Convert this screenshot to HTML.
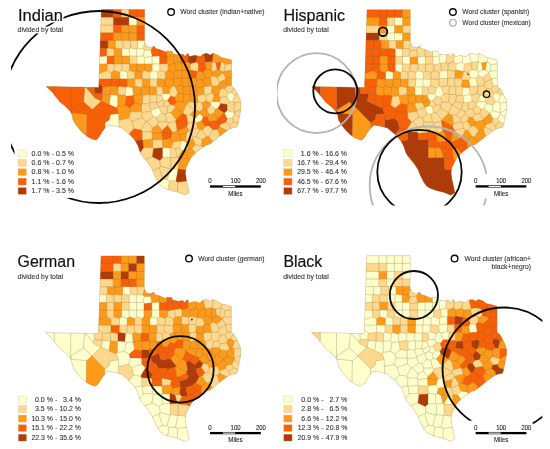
<!DOCTYPE html>
<html><head><meta charset="utf-8"><title>Texas maps</title>
<style>html,body{margin:0;padding:0;background:#fff}body{width:550px;height:449px;overflow:hidden}svg text{font-family:"Liberation Sans", sans-serif}</style>
</head><body>
<svg width="550" height="449" viewBox="0 0 550 449" style="display:block">
<rect width="550" height="449" fill="#fff"/>
<g stroke="#7a6848" stroke-opacity="0.5" stroke-width="0.3" stroke-linejoin="round">
<path d="M101.3,9.6 L144.6,9.6 L144.5,42.3 L146.7,46.6 L151.2,47.5 L153.9,45.9 L155.8,48.4 L160.3,49.8 L165.8,52.0 L167.6,51.0 L172.1,51.3 L173.0,53.8 L179.4,54.9 L183.0,53.9 L184.8,56.2 L187.9,53.2 L189.4,56.6 L194.8,55.2 L200.3,56.6 L203.0,54.0 L206.7,53.2 L210.3,54.9 L213.0,53.2 L217.6,54.9 L221.2,57.5 L225.8,58.4 L231.5,60.0 L231.5,86.0 L234.0,88.0 L236.0,91.0 L238.0,95.0 L240.0,99.0 L241.0,103.0 L241.0,108.0 L240.0,114.0 L239.0,119.0 L238.0,124.0 L237.0,127.0 L232.0,128.0 L228.0,130.0 L224.0,133.0 L220.0,136.0 L215.0,140.0 L210.0,144.0 L206.4,145.0 L200.1,149.2 L195.2,153.3 L191.2,157.5 L188.4,162.8 L186.3,167.0 L185.4,172.3 L186.3,179.3 L188.0,186.5 L189.2,192.6 L185.2,195.0 L177.7,192.0 L170.3,190.2 L164.8,188.4 L161.0,186.0 L158.0,182.0 L154.5,175.0 L152.4,169.5 L148.3,163.2 L144.0,158.0 L141.5,155.0 L140.0,152.0 L138.0,146.0 L136.0,142.0 L133.0,138.0 L128.0,133.0 L122.0,128.0 L117.0,126.5 L112.0,125.5 L108.0,125.0 L105.0,128.0 L102.0,132.0 L99.0,137.0 L96.0,140.0 L92.0,139.0 L88.0,137.0 L84.0,134.0 L80.0,130.0 L76.0,125.0 L73.0,120.0 L72.0,115.0 L70.0,111.0 L65.0,106.0 L60.0,102.0 L56.0,97.0 L52.0,92.0 L49.0,89.0 L46.0,86.4 L98.8,87.4Z" fill="#fed98e"/>
<path fill="#ffffcc" d="M137.6,48.2L143.3,48.7L144.7,42.7L144.5,42.3L144.5,40.4L137.6,40.4ZM123.0,48.0L121.9,48.9L121.9,56.1L129.5,56.1L129.5,48.9ZM129.5,48.9L129.5,56.1L136.7,56.1L136.7,48.8L130.5,48.0ZM136.7,48.8L136.7,56.1L136.9,56.3L143.2,56.0L144.5,50.2L143.3,48.7L137.6,48.2ZM144.3,57.4L152.1,56.5L152.2,56.3L150.9,49.9L144.5,50.2L143.2,56.0ZM107.1,63.9L107.1,56.3L106.7,56.0L99.8,56.4L99.6,63.9ZM136.9,56.3L136.9,63.9L144.3,63.9L144.3,57.4L143.2,56.0ZM152.1,56.5L144.3,57.4L144.3,63.9L152.1,63.9ZM159.6,56.1L159.5,56.0L152.2,56.3L152.1,56.5L152.1,63.9L159.6,63.9ZM159.8,64.0L159.6,63.9L152.1,63.9L152.1,70.5L157.7,72.1L159.8,70.5ZM227.9,93.1L227.0,96.7L229.8,101.8L232.6,101.8L234.6,95.0L230.9,92.5ZM119.8,78.8L127.3,79.0L127.4,78.9L127.4,72.1L121.9,70.5L119.8,72.2ZM157.7,72.1L152.1,70.5L150.1,72.1L150.1,78.8L157.2,79.0L157.7,78.6ZM126.4,96.3L133.4,95.6L133.4,95.6L132.7,87.8L127.3,86.4L125.9,87.3L125.1,95.1ZM109.3,104.5L115.9,107.5L117.7,106.1L117.7,95.2L110.7,94.7L110.6,94.7ZM170.7,96.0L169.1,93.5L163.2,93.5L161.4,95.2L163.3,99.7L164.6,100.8L167.5,100.3ZM151.0,111.4L153.2,116.7L156.5,117.6L161.3,113.4L159.2,107.2L158.9,107.0L151.3,110.4ZM196.5,122.8L201.5,120.9L203.3,117.1L199.8,113.6L194.9,118.5L194.9,121.5ZM215.5,109.1L217.9,108.5L220.7,103.4L219.7,101.5L212.6,101.5L210.4,103.3L210.6,104.8ZM227.3,118.7L232.0,118.2L234.6,113.5L234.4,112.5L227.1,110.5L224.2,113.1ZM180.7,140.7L180.7,140.7L179.8,147.9L182.4,150.2L186.8,149.8L187.9,148.6L185.9,141.5L185.5,141.3ZM170.2,157.3L170.2,147.9L162.8,147.4L162.5,147.7L162.5,157.8ZM167.5,179.4L169.3,181.0L175.9,181.0L178.1,169.2L170.9,168.4L170.1,168.8ZM169.3,181.0L167.5,179.4L162.7,179.1L158.0,181.9L158.0,182.0L161.0,186.0L164.8,188.4L168.0,189.4ZM105.0,128.0L108.0,125.0L112.0,125.5L117.0,126.5L119.0,127.1L119.0,125.3L118.7,113.5L110.5,114.4L109.2,119.9L105.0,122.6ZM128.9,25.2L136.9,25.2L136.9,17.2L128.9,17.2Z"/>
<path fill="#fed88c" d="M115.4,48.0L121.9,48.9L123.0,48.0L123.0,40.4L115.4,40.4ZM130.5,40.4L123.0,40.4L123.0,48.0L129.5,48.9L130.5,48.0ZM130.5,48.0L136.7,48.8L137.6,48.2L137.6,40.4L130.5,40.4ZM143.3,48.7L144.5,50.2L150.9,49.9L153.8,46.0L151.2,47.5L146.7,46.6L144.7,42.7ZM106.7,48.8L106.7,56.0L107.1,56.3L114.1,56.0L114.1,49.0L107.9,47.9ZM129.5,56.1L129.5,63.9L136.9,63.9L136.9,56.3L136.7,56.1ZM114.2,63.9L107.1,63.9L107.1,70.6L111.2,72.8L114.2,70.5ZM121.9,70.5L121.9,63.9L114.2,63.9L114.2,70.5L119.8,72.2ZM127.4,72.1L129.5,70.5L129.5,63.9L121.9,63.9L121.9,70.5ZM168.0,70.1L168.0,64.7L167.0,63.7L159.8,64.0L159.8,70.5L165.4,72.1ZM197.8,71.4L198.1,71.2L198.5,63.9L196.5,62.1L190.4,63.7L190.2,69.9ZM215.8,62.8L212.5,61.8L211.3,70.3L212.7,71.6L217.1,69.7ZM223.0,72.1L224.2,71.2L225.1,64.4L221.5,61.4L221.1,61.7L219.5,69.9ZM225.1,64.4L224.2,71.2L231.5,70.4L231.5,63.7ZM217.2,77.5L212.7,75.7L210.4,78.1L211.8,85.9L212.1,86.1L218.2,85.7L219.3,82.2ZM223.0,72.7L217.2,77.5L219.3,82.2L225.8,79.0L225.9,78.7ZM203.6,87.3L204.3,94.3L205.6,95.4L211.5,93.0L212.1,86.1L211.8,85.9L204.4,86.5ZM224.8,88.8L220.8,88.5L218.6,94.7L220.5,97.4L227.0,96.7L227.9,93.1ZM227.5,85.8L224.8,88.8L227.9,93.1L230.9,92.5L234.0,88.0L231.5,86.0L231.5,85.4ZM197.9,102.0L202.1,102.8L206.4,100.5L205.6,95.4L204.3,94.3L197.3,95.6ZM214.2,95.1L211.5,93.0L205.6,95.4L206.4,100.5L210.4,103.3L212.6,101.5ZM220.7,103.4L227.1,104.6L229.8,101.8L227.0,96.7L220.5,97.4L219.7,101.5ZM234.6,95.0L232.6,101.8L234.4,102.7L240.8,102.2L240.0,99.0L238.0,95.0L237.4,93.9ZM230.9,92.5L234.6,95.0L237.4,93.9L236.0,91.0L234.0,88.0L234.0,88.0ZM99.2,73.5L99.1,78.9L111.2,78.9L111.2,72.8L107.1,70.6ZM129.5,70.5L127.4,72.1L127.4,78.9L134.8,78.9L134.8,72.1ZM150.1,72.1L144.3,70.5L142.3,72.1L142.3,78.8L142.4,78.9L149.9,78.9L150.1,78.8ZM159.8,70.5L157.7,72.1L157.7,78.6L164.7,79.2L165.4,78.6L165.4,72.1ZM134.8,86.2L141.2,87.4L142.4,86.4L142.4,78.9L142.3,78.8L134.8,79.0ZM149.9,78.9L149.9,86.5L156.5,87.0L157.2,86.4L157.2,79.0L150.1,78.8ZM125.9,87.3L119.6,86.2L118.2,87.3L118.2,94.8L125.1,95.1ZM156.5,94.7L157.1,95.2L161.4,95.2L163.2,93.5L162.4,87.0L157.2,86.4L156.5,87.0ZM177.9,93.6L175.2,86.6L173.8,85.9L170.6,87.8L169.1,93.5L170.7,96.0L174.6,97.2ZM149.2,94.4L142.5,95.3L142.5,103.7L149.1,103.7L150.0,102.7L150.0,95.0ZM150.0,102.7L156.3,102.4L157.1,95.2L156.5,94.7L150.0,95.0ZM157.1,95.2L156.3,102.4L156.9,102.9L163.3,99.7L161.4,95.2ZM142.0,112.3L141.6,111.8L130.5,111.8L128.8,118.2L132.0,121.3L142.0,117.8ZM149.1,103.7L142.5,103.7L141.6,104.5L141.6,111.8L142.0,112.3L151.0,111.4L151.3,110.4ZM142.0,112.3L142.0,117.8L145.8,121.5L147.0,121.5L153.2,116.7L151.0,111.4ZM158.9,107.0L156.9,102.9L156.3,102.4L150.0,102.7L149.1,103.7L151.3,110.4ZM159.2,107.2L161.3,113.4L165.3,114.0L167.6,112.5L167.0,107.3L163.5,105.3ZM167.0,107.3L167.6,112.5L170.9,112.7L175.2,107.7L174.6,105.0L170.3,104.6ZM163.3,99.7L156.9,102.9L158.9,107.0L159.2,107.2L163.5,105.3L164.6,100.8ZM164.6,100.8L163.5,105.3L167.0,107.3L170.3,104.6L167.5,100.3ZM132.0,121.3L128.8,118.2L118.9,120.1L119.0,125.3L119.0,125.3L119.0,127.1L119.0,127.1L119.0,127.1L119.0,127.1L122.0,128.0L128.0,133.0L129.1,134.1L133.8,128.7ZM140.9,129.9L145.8,121.5L142.0,117.8L132.0,121.3L133.8,128.7ZM152.5,127.8L147.0,121.5L145.8,121.5L140.9,129.9L142.2,131.5L151.6,132.0ZM147.0,121.5L152.5,127.8L157.6,124.9L158.3,121.8L156.5,117.6L153.2,116.7ZM158.3,121.8L166.9,121.8L165.3,114.0L161.3,113.4L156.5,117.6ZM168.2,122.9L167.6,125.5L172.7,132.6L177.1,131.1L177.2,131.1L175.6,120.8ZM176.2,120.1L176.3,119.5L170.9,112.7L167.6,112.5L165.3,114.0L166.9,121.8L168.2,122.9L175.6,120.8ZM168.2,122.9L166.9,121.8L158.3,121.8L157.6,124.9L162.3,130.2L167.6,125.5ZM190.2,114.6L194.6,109.6L186.6,104.6L186.2,104.7L182.8,112.8L182.8,113.0L186.4,115.3ZM189.7,101.7L186.6,104.6L194.6,109.6L195.8,109.4L197.2,102.7ZM195.8,109.4L199.4,111.8L203.0,109.0L202.1,102.8L197.9,102.0L197.2,102.7ZM187.9,123.6L194.9,121.5L194.9,118.5L190.2,114.6L186.4,115.3ZM206.9,109.0L208.9,114.4L213.9,113.4L215.5,109.1L210.6,104.8ZM229.8,101.8L227.1,104.6L227.1,110.5L234.4,112.5L234.4,102.7L232.6,101.8ZM234.4,102.7L234.4,112.5L240.8,109.3L241.0,108.0L241.0,103.0L240.8,102.2ZM225.9,122.2L229.8,125.5L233.7,121.6L232.0,118.2L227.3,118.7ZM234.6,113.5L232.0,118.2L233.7,121.6L238.2,123.1L239.0,119.0L239.4,117.1ZM234.4,112.5L234.6,113.5L239.4,117.1L240.0,114.0L240.8,109.3ZM229.8,125.5L225.9,122.2L219.9,124.4L219.5,126.8L227.2,130.6L228.0,130.0L230.4,128.8ZM233.7,121.6L229.8,125.5L230.4,128.8L232.0,128.0L237.0,127.0L238.0,124.0L238.2,123.1ZM188.9,130.1L197.5,128.1L196.5,122.8L194.9,121.5L187.9,123.6L186.8,125.5L186.8,126.8ZM188.9,130.5L193.7,137.7L196.1,136.7L199.8,130.0L197.5,128.1L188.9,130.1ZM185.9,141.5L193.0,138.9L193.7,137.7L188.9,130.5L186.6,133.3L185.5,141.3ZM209.0,136.7L213.1,129.8L208.4,125.6L205.3,126.5L202.1,130.0L206.5,136.3ZM212.8,141.7L215.0,140.0L219.9,136.1L217.6,129.2L213.1,129.8L209.0,136.7ZM206.5,136.3L202.1,130.0L199.8,130.0L196.1,136.7L202.0,139.7ZM196.1,136.7L193.7,137.7L193.0,138.9L195.3,144.7L201.5,145.8L202.0,139.7ZM201.5,145.8L195.3,144.7L192.0,148.6L195.4,153.1L200.1,149.2L202.7,147.4ZM151.6,132.0L142.2,131.5L142.2,139.7L142.6,140.1L152.4,139.2L152.4,133.3ZM153.5,148.4L162.5,147.7L162.8,147.4L162.3,139.7L152.7,139.7L152.7,147.4ZM179.8,147.9L180.7,140.7L173.0,142.0L171.5,147.1L175.4,149.0ZM152.4,156.7L153.5,148.4L152.7,147.4L143.7,147.4L140.2,152.4L141.5,155.0L144.0,158.0L145.2,159.5ZM175.4,149.0L171.5,147.1L170.2,147.9L170.2,157.3L170.9,157.7L177.7,157.3ZM178.3,157.5L182.4,150.2L179.8,147.9L175.4,149.0L177.7,157.3ZM159.2,167.6L160.4,166.2L159.8,160.4L152.4,156.7L145.2,159.5L148.3,163.2L152.4,169.5L152.8,170.5ZM159.8,160.4L160.4,166.2L170.1,168.8L170.9,168.4L170.9,157.7L170.2,157.3L162.5,157.8ZM170.9,157.7L170.9,168.4L178.1,169.2L178.6,168.9L178.6,157.8L178.3,157.5L177.7,157.3ZM162.7,179.1L159.2,167.6L152.8,170.5L154.5,175.0L158.0,181.9ZM160.4,166.2L159.2,167.6L162.7,179.1L167.5,179.4L170.1,168.8ZM169.3,181.0L168.0,189.4L170.3,190.2L177.6,192.0L177.6,182.2L175.9,181.0ZM177.6,182.2L177.6,192.0L177.7,192.0L185.2,195.0L189.2,192.6L188.0,186.5L186.7,181.0ZM83.6,101.7L92.3,109.5L101.4,101.0L95.0,98.0L85.8,87.2L84.9,87.1ZM121.3,17.2L128.9,17.2L128.9,9.6L121.3,9.6ZM113.4,25.2L113.4,17.2L101.1,17.2L100.8,25.2ZM113.4,32.8L113.4,25.2L100.8,25.2L100.6,32.8Z"/>
<path fill="#fe9a1a" d="M107.9,47.9L114.1,49.0L115.4,48.0L115.4,40.4L107.9,40.4ZM114.1,56.0L114.2,56.1L121.9,56.1L121.9,48.9L115.4,48.0L114.1,49.0ZM166.8,56.1L167.0,56.3L173.2,56.0L175.1,54.2L173.0,53.8L172.1,51.3L167.6,51.0L166.8,51.4ZM121.9,56.1L114.2,56.1L114.2,63.9L121.9,63.9ZM121.9,56.1L121.9,63.9L129.5,63.9L129.5,56.1ZM174.4,63.2L173.2,56.0L167.0,56.3L167.0,63.7L168.0,64.7ZM107.1,63.9L99.6,63.9L99.2,73.5L107.1,70.6ZM136.9,70.6L136.9,63.9L129.5,63.9L129.5,70.5L134.8,72.1ZM142.3,72.1L144.3,70.5L144.3,63.9L136.9,63.9L136.9,70.6ZM152.1,63.9L144.3,63.9L144.3,70.5L150.1,72.1L152.1,70.5ZM173.7,72.6L176.0,70.5L174.7,63.3L174.4,63.2L168.0,64.7L168.0,70.1ZM173.2,56.0L174.4,63.2L174.7,63.3L180.5,62.2L180.5,54.6L179.4,54.9L175.1,54.2ZM212.3,61.6L212.5,61.8L215.8,62.8L221.1,61.7L221.5,61.4L222.3,57.7L221.2,57.5L217.6,54.9L213.3,53.3ZM221.5,61.4L225.1,64.4L231.5,63.7L231.5,60.0L225.8,58.4L222.3,57.7ZM176.0,70.5L181.9,70.5L182.3,70.1L182.3,63.5L180.5,62.2L174.7,63.3ZM182.3,70.1L189.3,70.8L190.2,69.9L190.4,63.7L188.2,61.9L182.3,63.5ZM212.5,61.8L212.3,61.6L205.6,62.2L205.0,63.0L206.3,69.4L211.3,70.3ZM174.0,78.2L181.9,78.2L181.9,70.5L176.0,70.5L173.7,72.6ZM189.3,70.8L182.3,70.1L181.9,70.5L181.9,78.2L188.9,78.2L189.3,77.8ZM195.7,78.4L196.8,79.9L203.1,79.9L204.9,77.6L203.0,72.3L198.1,71.2L197.8,71.4ZM210.4,78.1L212.7,75.7L212.7,71.6L211.3,70.3L206.3,69.4L203.0,72.3L204.9,77.6ZM223.0,72.7L223.0,72.1L219.5,69.9L217.1,69.7L212.7,71.6L212.7,75.7L217.2,77.5ZM231.5,77.7L231.5,70.4L224.2,71.2L223.0,72.1L223.0,72.7L225.9,78.7ZM173.8,85.9L175.2,86.6L181.9,85.4L181.9,78.2L174.0,78.2L173.2,79.3ZM181.9,78.2L181.9,85.4L183.6,86.6L188.9,85.8L188.9,78.2ZM188.9,78.2L188.9,85.8L190.0,86.5L195.7,86.0L196.8,79.9L195.7,78.4L189.3,77.8ZM196.8,79.9L195.7,86.0L197.0,87.3L203.6,87.3L204.4,86.5L203.1,79.9ZM204.4,86.5L211.8,85.9L210.4,78.1L204.9,77.6L203.1,79.9ZM219.3,82.2L218.2,85.7L220.8,88.5L224.8,88.8L227.5,85.8L225.8,79.0ZM225.9,78.7L225.8,79.0L227.5,85.8L231.5,85.4L231.5,77.7ZM183.6,86.6L181.9,85.4L175.2,86.6L177.9,93.6L183.0,93.6ZM190.0,94.3L190.0,86.5L188.9,85.8L183.6,86.6L183.0,93.6L183.7,94.3ZM197.0,87.3L195.7,86.0L190.0,86.5L190.0,94.3L191.0,95.2L196.2,94.8ZM197.3,95.6L204.3,94.3L203.6,87.3L197.0,87.3L196.2,94.8ZM218.6,94.7L220.8,88.5L218.2,85.7L212.1,86.1L211.5,93.0L214.2,95.1ZM183.0,93.6L177.9,93.6L174.6,97.2L176.5,101.8L182.9,101.8L183.7,94.3ZM182.9,101.8L186.2,104.7L186.6,104.6L189.7,101.7L191.0,95.2L190.0,94.3L183.7,94.3ZM191.0,95.2L189.7,101.7L197.2,102.7L197.9,102.0L197.3,95.6L196.2,94.8ZM220.5,97.4L218.6,94.7L214.2,95.1L212.6,101.5L219.7,101.5ZM114.2,70.5L111.2,72.8L111.2,78.9L119.6,78.9L119.8,78.8L119.8,72.2ZM134.8,78.9L134.8,79.0L142.3,78.8L142.3,72.1L136.9,70.6L134.8,72.1ZM165.4,78.6L173.2,79.3L174.0,78.2L173.7,72.6L168.0,70.1L165.4,72.1ZM134.8,78.9L127.4,78.9L127.3,79.0L127.3,86.4L132.7,87.8L134.8,86.2L134.8,79.0ZM142.4,78.9L142.4,86.4L149.2,87.1L149.9,86.5L149.9,78.9ZM157.7,78.6L157.2,79.0L157.2,86.4L162.4,87.0L164.7,85.4L164.7,79.2ZM164.7,79.2L164.7,85.4L170.6,87.8L173.8,85.9L173.2,79.3L165.4,78.6ZM110.6,94.7L110.7,94.7L110.7,86.5L102.6,87.0L102.4,93.6L102.8,94.2ZM110.7,94.7L117.7,95.2L118.2,94.8L118.2,87.3L111.2,86.0L110.7,86.5ZM132.7,87.8L133.4,95.6L141.2,94.2L141.2,87.4L134.8,86.2ZM142.4,86.4L141.2,87.4L141.2,94.2L142.5,95.3L149.2,94.4L149.2,87.1ZM149.2,87.1L149.2,94.4L150.0,95.0L156.5,94.7L156.5,87.0L149.9,86.5ZM169.1,93.5L170.6,87.8L164.7,85.4L162.4,87.0L163.2,93.5ZM110.6,94.7L102.8,94.2L101.6,101.1L109.3,104.5ZM118.2,94.8L117.7,95.2L117.7,106.1L124.9,105.1L126.4,96.3L125.1,95.1ZM141.6,104.5L142.5,103.7L142.5,95.3L141.2,94.2L133.4,95.6L133.4,95.6L134.8,103.2ZM115.9,107.5L116.9,108.0L116.9,108.0L116.9,108.0L116.9,108.0L116.9,108.0L116.9,108.0L116.9,108.0L116.9,108.0L116.9,108.0L118.7,113.5L118.7,113.5L118.7,113.5L118.7,113.5L118.9,120.1L128.8,118.2L130.5,111.8L129.5,107.9L124.9,105.1L117.7,106.1ZM129.5,107.9L130.5,111.8L141.6,111.8L141.6,104.5L134.8,103.2ZM161.9,132.4L162.2,131.9L162.3,130.2L157.6,124.9L152.5,127.8L151.6,132.0L152.4,133.3ZM174.6,105.0L175.2,107.7L182.8,112.8L186.2,104.7L182.9,101.8L176.5,101.8ZM170.9,112.7L176.3,119.5L182.8,113.0L182.8,112.8L175.2,107.7ZM188.9,130.5L188.9,130.1L186.8,126.8L177.2,131.1L177.1,131.1L179.8,135.0L186.6,133.3ZM194.9,118.5L199.8,113.6L199.4,111.8L195.8,109.4L194.6,109.6L190.2,114.6ZM210.4,103.3L206.4,100.5L202.1,102.8L203.0,109.0L206.9,109.0L210.6,104.8ZM203.0,109.0L199.4,111.8L199.8,113.6L203.3,117.1L207.0,117.1L208.9,114.4L206.9,109.0ZM208.9,114.4L207.0,117.1L209.7,121.5L217.4,120.0L217.5,118.8L213.9,113.4ZM213.9,113.4L217.5,118.8L224.1,113.1L217.9,108.5L215.5,109.1ZM201.5,120.9L196.5,122.8L197.5,128.1L199.8,130.0L202.1,130.0L205.3,126.5ZM219.9,136.1L220.0,136.0L224.0,133.0L227.2,130.6L219.5,126.8L217.6,129.2ZM209.0,136.7L206.5,136.3L202.0,139.7L201.5,145.8L202.7,147.4L206.4,145.0L210.0,144.0L212.8,141.7ZM193.0,138.9L185.9,141.5L187.9,148.6L192.0,148.6L195.3,144.7ZM187.9,158.6L189.7,160.3L191.2,157.5L195.2,153.3L195.4,153.1L192.0,148.6L187.9,148.6L186.8,149.8ZM152.4,139.2L152.7,139.7L162.3,139.7L162.5,139.4L161.9,132.4L152.4,133.3ZM179.8,135.0L177.1,131.1L172.7,132.6L171.8,133.6L170.7,138.6L173.0,142.0L180.7,140.7L180.7,140.7ZM186.6,133.3L179.8,135.0L180.7,140.7L185.5,141.3ZM143.7,147.4L152.7,147.4L152.7,139.7L152.4,139.2L142.6,140.1ZM170.7,138.6L162.5,139.4L162.3,139.7L162.8,147.4L170.2,147.9L171.5,147.1L173.0,142.0ZM178.6,157.8L187.9,158.6L186.8,149.8L182.4,150.2L178.3,157.5ZM187.9,158.6L178.6,157.8L178.6,168.9L185.8,170.0L186.3,167.0L188.4,162.8L189.7,160.3ZM71.0,113.0L72.0,115.0L73.0,120.0L76.0,125.0L80.0,130.0L84.0,134.0L86.5,135.9L86.9,114.4L72.3,113.0ZM136.9,25.2L144.6,25.2L144.6,17.2L136.9,17.2ZM121.3,32.8L128.9,32.8L128.9,25.2L121.3,25.2ZM128.9,32.8L136.9,32.8L136.9,25.2L128.9,25.2ZM113.4,40.4L121.3,40.4L121.3,32.8L113.4,32.8ZM121.3,40.4L128.9,40.4L128.9,32.8L121.3,32.8ZM128.9,40.4L136.9,40.4L136.9,32.8L128.9,32.8Z"/>
<path fill="#f86008" d="M106.7,56.0L106.7,48.8L100.1,48.0L99.8,56.4ZM150.9,49.9L152.2,56.3L159.5,56.0L159.5,49.5L155.8,48.4L153.9,45.9L153.8,46.0ZM166.8,51.4L165.8,52.0L160.3,49.8L159.5,49.5L159.5,56.0L159.6,56.1L166.8,56.1ZM114.2,56.1L114.1,56.0L107.1,56.3L107.1,63.9L114.2,63.9ZM167.0,56.3L166.8,56.1L159.6,56.1L159.6,63.9L159.8,64.0L167.0,63.7ZM180.5,62.2L182.3,63.5L188.2,61.9L188.2,53.9L187.9,53.2L184.8,56.2L183.0,53.9L180.5,54.6ZM196.5,62.1L198.5,63.9L205.0,63.0L205.6,62.2L203.7,53.9L203.0,54.0L200.3,56.6L197.0,55.8ZM203.0,72.3L206.3,69.4L205.0,63.0L198.5,63.9L198.1,71.2ZM219.5,69.9L221.1,61.7L215.8,62.8L217.1,69.7ZM195.7,78.4L197.8,71.4L190.2,69.9L189.3,70.8L189.3,77.8ZM94.7,93.6L94.5,87.3L85.8,87.2L93.0,95.6ZM71.0,113.0L71.0,113.0L71.0,113.0L71.0,113.0L71.0,113.0L72.3,113.0L71.0,109.9L70.3,111.7L70.3,111.7L70.3,111.7L70.3,111.7L70.3,111.7L70.3,111.7L70.3,111.7L70.3,111.7L70.3,111.7L71.0,113.0ZM102.8,94.2L102.4,93.6L94.7,93.6L93.0,95.6L95.0,98.0L101.4,101.0L101.6,101.1ZM102.6,87.0L110.7,86.5L111.2,86.0L111.2,78.9L99.1,78.9L98.9,82.9ZM119.6,86.2L119.6,78.9L111.2,78.9L111.2,86.0L118.2,87.3ZM127.3,86.4L127.3,79.0L119.8,78.8L119.6,78.9L119.6,86.2L125.9,87.3ZM124.9,105.1L129.5,107.9L134.8,103.2L133.4,95.6L126.4,96.3ZM170.3,104.6L174.6,105.0L176.5,101.8L174.6,97.2L170.7,96.0L167.5,100.3ZM167.6,125.5L162.3,130.2L162.2,131.9L171.8,133.6L172.7,132.6ZM186.8,125.5L187.9,123.6L186.4,115.3L182.8,113.0L176.3,119.5L176.2,120.1ZM177.2,131.1L186.8,126.8L186.8,125.5L176.2,120.1L175.6,120.8ZM219.9,124.4L225.9,122.2L227.3,118.7L224.2,113.1L224.1,113.1L217.5,118.8L217.4,120.0ZM209.7,121.5L207.0,117.1L203.3,117.1L201.5,120.9L205.3,126.5L208.4,125.6ZM217.6,129.2L219.5,126.8L219.9,124.4L217.4,120.0L209.7,121.5L208.4,125.6L213.1,129.8ZM142.2,139.7L142.2,131.5L140.9,129.9L133.8,128.7L129.1,134.1L133.0,138.0L135.1,140.8ZM161.9,132.4L162.5,139.4L170.7,138.6L171.8,133.6L162.2,131.9ZM54.7,86.6L46.0,86.4L49.0,89.0L52.0,92.0L54.7,95.4ZM54.7,95.4L56.0,97.0L60.0,102.0L65.0,106.0L70.0,111.0L70.3,111.7L71.0,109.9L71.0,86.9L54.7,86.6ZM71.0,109.9L83.6,101.7L84.9,87.1L71.0,86.9ZM72.3,113.0L86.9,114.4L92.3,109.5L83.6,101.7L71.0,109.9ZM86.5,135.9L88.0,137.0L92.0,139.0L96.0,140.0L99.0,137.0L102.0,132.0L105.0,128.0L105.0,122.6L92.3,109.5L86.9,114.4ZM105.0,122.6L109.2,119.9L110.5,114.4L118.7,113.5L116.9,108.0L101.4,101.0L92.3,109.5ZM113.4,17.2L121.3,17.2L121.3,9.6L113.4,9.6ZM128.9,17.2L136.9,17.2L136.9,9.6L128.9,9.6ZM136.9,17.2L144.6,17.2L144.6,9.6L136.9,9.6ZM113.4,32.8L121.3,32.8L121.3,25.2L113.4,25.2ZM136.9,32.8L144.5,32.8L144.6,25.2L136.9,25.2ZM113.4,40.4L113.4,32.8L100.6,32.8L100.3,40.4ZM136.9,40.4L144.5,40.4L144.5,32.8L136.9,32.8Z"/>
<path fill="#b03a08" d="M106.7,48.8L107.9,47.9L107.9,40.4L100.3,40.4L100.3,40.4L100.1,48.0ZM190.4,63.7L196.5,62.1L197.0,55.8L194.8,55.2L189.4,56.6L188.2,53.9L188.2,61.9ZM205.6,62.2L212.3,61.6L213.3,53.3L213.0,53.2L210.3,54.9L206.7,53.2L203.7,53.9ZM102.6,87.0L98.9,82.9L98.8,87.4L94.5,87.3L94.7,93.6L102.4,93.6ZM224.2,113.1L227.1,110.5L227.1,104.6L220.7,103.4L217.9,108.5L224.1,113.1ZM135.1,140.8L136.0,142.0L138.0,146.0L140.0,152.0L140.2,152.4L143.7,147.4L142.6,140.1L142.2,139.7ZM159.8,160.4L162.5,157.8L162.5,147.7L153.5,148.4L152.4,156.7ZM178.6,168.9L178.1,169.2L175.9,181.0L177.6,182.2L186.7,181.0L186.3,179.3L185.4,172.3L185.8,170.0ZM113.4,17.2L113.4,9.6L101.3,9.6L101.1,17.2ZM113.4,25.2L121.3,25.2L121.3,17.2L113.4,17.2ZM121.3,25.2L128.9,25.2L128.9,17.2L121.3,17.2Z"/>
</g>
<g stroke="#7a6848" stroke-opacity="0.5" stroke-width="0.3" stroke-linejoin="round">
<path d="M367.0,9.8 L410.3,9.8 L410.2,42.5 L412.4,46.8 L416.9,47.7 L419.6,46.1 L421.5,48.6 L426.0,50.0 L431.5,52.2 L433.3,51.2 L437.8,51.5 L438.7,54.0 L445.1,55.1 L448.7,54.1 L450.5,56.4 L453.6,53.4 L455.1,56.8 L460.5,55.4 L466.0,56.8 L468.7,54.2 L472.4,53.4 L476.0,55.1 L478.7,53.4 L483.3,55.1 L486.9,57.7 L491.5,58.6 L497.2,60.2 L497.2,86.2 L499.7,88.2 L501.7,91.2 L503.7,95.2 L505.7,99.2 L506.7,103.2 L506.7,108.2 L505.7,114.2 L504.7,119.2 L503.7,124.2 L502.7,127.2 L497.7,128.2 L493.7,130.2 L489.7,133.2 L485.7,136.2 L480.7,140.2 L475.7,144.2 L472.1,145.2 L465.8,149.4 L460.9,153.5 L456.9,157.7 L454.1,163.0 L452.0,167.2 L451.1,172.5 L452.0,179.5 L453.7,186.7 L454.9,192.8 L450.9,195.2 L443.4,192.2 L436.0,190.4 L430.5,188.6 L426.7,186.2 L423.7,182.2 L420.2,175.2 L418.1,169.7 L414.0,163.4 L409.7,158.2 L407.2,155.2 L405.7,152.2 L403.7,146.2 L401.7,142.2 L398.7,138.2 L393.7,133.2 L387.7,128.2 L382.7,126.7 L377.7,125.7 L373.7,125.2 L370.7,128.2 L367.7,132.2 L364.7,137.2 L361.7,140.2 L357.7,139.2 L353.7,137.2 L349.7,134.2 L345.7,130.2 L341.7,125.2 L338.7,120.2 L337.7,115.2 L335.7,111.2 L330.7,106.2 L325.7,102.2 L321.7,97.2 L317.7,92.2 L314.7,89.2 L311.7,86.6 L364.5,87.6Z" fill="#fed98e"/>
<path fill="#ffffcc" d="M395.2,49.1L395.2,56.3L402.4,56.3L402.4,49.0L396.2,48.2ZM432.5,56.3L432.7,56.5L438.9,56.2L440.8,54.4L438.7,54.0L437.8,51.5L433.3,51.2L432.5,51.6ZM402.6,56.5L402.6,64.1L410.0,64.1L410.0,57.6L408.9,56.2ZM425.3,56.3L425.2,56.2L417.9,56.5L417.8,56.7L417.8,64.1L425.3,64.1ZM440.1,63.4L438.9,56.2L432.7,56.5L432.7,63.9L433.7,64.9ZM402.6,70.8L402.6,64.1L395.2,64.1L395.2,70.7L400.5,72.3ZM438.9,56.2L440.1,63.4L440.4,63.5L446.2,62.4L446.2,54.8L445.1,55.1L440.8,54.4ZM456.1,63.9L462.2,62.3L462.7,56.0L460.5,55.4L455.1,56.8L453.9,54.1L453.9,62.1ZM462.2,62.3L464.2,64.1L470.7,63.2L471.3,62.4L469.4,54.1L468.7,54.2L466.0,56.8L462.7,56.0ZM471.3,62.4L478.0,61.8L479.0,53.5L478.7,53.4L476.0,55.1L472.4,53.4L469.4,54.1ZM478.0,61.8L478.2,62.0L481.5,63.0L486.8,61.9L487.2,61.6L488.0,57.9L486.9,57.7L483.3,55.1L479.0,53.5ZM487.2,61.6L490.8,64.6L497.2,63.9L497.2,60.2L491.5,58.6L488.0,57.9ZM463.5,71.6L463.8,71.4L464.2,64.1L462.2,62.3L456.1,63.9L455.9,70.1ZM481.5,63.0L478.2,62.0L477.0,70.5L478.4,71.8L482.8,69.9ZM488.7,72.3L489.9,71.4L490.8,64.6L487.2,61.6L486.8,61.9L485.2,70.1ZM490.8,64.6L489.9,71.4L497.2,70.6L497.2,63.9ZM439.7,78.4L447.6,78.4L447.6,70.7L441.7,70.7L439.4,72.8ZM476.1,78.3L478.4,75.9L478.4,71.8L477.0,70.5L472.0,69.6L468.7,72.5L470.6,77.8ZM488.7,72.9L488.7,72.3L485.2,70.1L482.8,69.9L478.4,71.8L478.4,75.9L482.9,77.7ZM497.2,77.9L497.2,70.6L489.9,71.4L488.7,72.3L488.7,72.9L491.6,78.9ZM470.1,86.7L477.5,86.1L476.1,78.3L470.6,77.8L468.8,80.1ZM491.6,78.9L491.5,79.2L493.2,86.0L497.2,85.6L497.2,77.9ZM463.0,95.8L470.0,94.5L469.3,87.5L462.7,87.5L461.9,95.0ZM463.6,102.2L467.8,103.0L472.1,100.7L471.3,95.6L470.0,94.5L463.0,95.8ZM486.2,97.6L484.3,94.9L479.9,95.3L478.3,101.7L485.4,101.7ZM493.6,93.3L492.7,96.9L495.5,102.0L498.3,102.0L500.3,95.2L496.6,92.7ZM500.3,95.2L498.3,102.0L500.1,102.9L506.5,102.4L505.7,99.2L503.7,95.2L503.1,94.1ZM385.5,79.0L393.0,79.2L393.1,79.1L393.1,72.3L387.6,70.7L385.5,72.4ZM423.4,72.3L417.8,70.7L415.8,72.3L415.8,79.0L422.9,79.2L423.4,78.8ZM415.6,79.1L415.6,86.7L422.2,87.2L422.9,86.6L422.9,79.2L415.8,79.0ZM423.4,78.8L422.9,79.2L422.9,86.6L428.1,87.2L430.4,85.6L430.4,79.4ZM414.9,87.3L414.9,94.6L415.7,95.2L422.2,94.9L422.2,87.2L415.6,86.7ZM443.6,93.8L440.9,86.8L439.5,86.1L436.3,88.0L434.8,93.7L436.4,96.2L440.3,97.4ZM436.4,96.2L434.8,93.7L428.9,93.7L427.1,95.4L429.0,99.9L430.3,101.0L433.2,100.5ZM424.9,107.4L427.0,113.6L431.0,114.2L433.3,112.7L432.7,107.5L429.2,105.5ZM481.2,109.3L483.6,108.7L486.4,103.6L485.4,101.7L478.3,101.7L476.1,103.5L476.3,105.0ZM489.9,113.3L492.8,110.7L492.8,104.8L486.4,103.6L483.6,108.7L489.8,113.3ZM493.0,118.9L497.7,118.4L500.3,113.7L500.1,112.7L492.8,110.7L489.9,113.3ZM495.5,102.0L492.8,104.8L492.8,110.7L500.1,112.7L500.1,102.9L498.3,102.0ZM500.1,102.9L500.1,112.7L506.5,109.5L506.7,108.2L506.7,103.2L506.5,102.4ZM500.3,113.7L497.7,118.4L499.4,121.8L503.9,123.3L504.7,119.2L505.1,117.3ZM500.1,112.7L500.3,113.7L505.1,117.3L505.7,114.2L506.5,109.5ZM394.6,25.4L402.6,25.4L402.6,17.4L394.6,17.4ZM387.0,33.0L394.6,33.0L394.6,25.4L387.0,25.4ZM387.0,40.6L394.6,40.6L394.6,33.0L387.0,33.0ZM394.6,40.6L402.6,40.6L402.6,33.0L394.6,33.0Z"/>
<path fill="#fed88c" d="M396.2,40.6L388.7,40.6L388.7,48.2L395.2,49.1L396.2,48.2ZM403.3,48.4L409.0,48.9L410.4,42.9L410.2,42.5L410.2,40.6L403.3,40.6ZM409.0,48.9L410.2,50.4L416.6,50.1L419.5,46.2L416.9,47.7L412.4,46.8L410.4,42.9ZM402.4,49.0L402.4,56.3L402.6,56.5L408.9,56.2L410.2,50.4L409.0,48.9L403.3,48.4ZM416.6,50.1L417.9,56.5L425.2,56.2L425.2,49.7L421.5,48.6L419.6,46.1L419.5,46.2ZM432.5,51.6L431.5,52.2L426.0,50.0L425.2,49.7L425.2,56.2L425.3,56.3L432.5,56.3ZM410.0,57.6L417.8,56.7L417.9,56.5L416.6,50.1L410.2,50.4L408.9,56.2ZM395.2,56.3L395.2,64.1L402.6,64.1L402.6,56.5L402.4,56.3ZM432.7,56.5L432.5,56.3L425.3,56.3L425.3,64.1L425.5,64.2L432.7,63.9ZM408.0,72.3L410.0,70.7L410.0,64.1L402.6,64.1L402.6,70.8ZM417.8,64.1L410.0,64.1L410.0,70.7L415.8,72.3L417.8,70.7ZM425.5,64.2L425.3,64.1L417.8,64.1L417.8,70.7L423.4,72.3L425.5,70.7ZM433.7,70.3L433.7,64.9L432.7,63.9L425.5,64.2L425.5,70.7L431.1,72.3ZM439.4,72.8L441.7,70.7L440.4,63.5L440.1,63.4L433.7,64.9L433.7,70.3ZM446.2,62.4L448.0,63.7L453.9,62.1L453.9,54.1L453.6,53.4L450.5,56.4L448.7,54.1L446.2,54.8ZM441.7,70.7L447.6,70.7L448.0,70.3L448.0,63.7L446.2,62.4L440.4,63.5ZM448.0,70.3L455.0,71.0L455.9,70.1L456.1,63.9L453.9,62.1L448.0,63.7ZM468.7,72.5L472.0,69.6L470.7,63.2L464.2,64.1L463.8,71.4ZM478.2,62.0L478.0,61.8L471.3,62.4L470.7,63.2L472.0,69.6L477.0,70.5ZM455.0,71.0L448.0,70.3L447.6,70.7L447.6,78.4L454.6,78.4L455.0,78.0ZM461.4,78.6L462.5,80.1L468.8,80.1L470.6,77.8L468.7,72.5L463.8,71.4L463.5,71.6ZM439.5,86.1L440.9,86.8L447.6,85.6L447.6,78.4L439.7,78.4L438.9,79.5ZM447.6,78.4L447.6,85.6L449.3,86.8L454.6,86.0L454.6,78.4ZM454.6,78.4L454.6,86.0L455.7,86.7L461.4,86.2L462.5,80.1L461.4,78.6L455.0,78.0ZM482.9,77.7L478.4,75.9L476.1,78.3L477.5,86.1L477.8,86.3L483.9,85.9L485.0,82.4ZM488.7,72.9L482.9,77.7L485.0,82.4L491.5,79.2L491.6,78.9ZM485.0,82.4L483.9,85.9L486.5,88.7L490.5,89.0L493.2,86.0L491.5,79.2ZM449.3,86.8L447.6,85.6L440.9,86.8L443.6,93.8L448.7,93.8ZM455.7,94.5L455.7,86.7L454.6,86.0L449.3,86.8L448.7,93.8L449.4,94.5ZM462.7,87.5L461.4,86.2L455.7,86.7L455.7,94.5L456.7,95.4L461.9,95.0ZM469.3,87.5L470.0,94.5L471.3,95.6L477.2,93.2L477.8,86.3L477.5,86.1L470.1,86.7ZM484.3,94.9L486.5,88.7L483.9,85.9L477.8,86.3L477.2,93.2L479.9,95.3ZM490.5,89.0L486.5,88.7L484.3,94.9L486.2,97.6L492.7,96.9L493.6,93.3ZM493.2,86.0L490.5,89.0L493.6,93.3L496.6,92.7L499.7,88.2L497.2,86.2L497.2,85.6ZM448.7,93.8L443.6,93.8L440.3,97.4L442.2,102.0L448.6,102.0L449.4,94.5ZM448.6,102.0L451.9,104.9L452.3,104.8L455.4,101.9L456.7,95.4L455.7,94.5L449.4,94.5ZM456.7,95.4L455.4,101.9L462.9,102.9L463.6,102.2L463.0,95.8L461.9,95.0ZM479.9,95.3L477.2,93.2L471.3,95.6L472.1,100.7L476.1,103.5L478.3,101.7ZM486.4,103.6L492.8,104.8L495.5,102.0L492.7,96.9L486.2,97.6L485.4,101.7ZM496.6,92.7L500.3,95.2L503.1,94.1L501.7,91.2L499.7,88.2L499.7,88.2ZM400.5,79.1L400.5,79.2L408.0,79.0L408.0,72.3L402.6,70.8L400.5,72.3ZM415.8,72.3L410.0,70.7L408.0,72.3L408.0,79.0L408.1,79.1L415.6,79.1L415.8,79.0ZM425.5,70.7L423.4,72.3L423.4,78.8L430.4,79.4L431.1,78.8L431.1,72.3ZM431.1,78.8L438.9,79.5L439.7,78.4L439.4,72.8L433.7,70.3L431.1,72.3ZM408.1,79.1L408.1,86.6L414.9,87.3L415.6,86.7L415.6,79.1ZM430.4,79.4L430.4,85.6L436.3,88.0L439.5,86.1L438.9,79.5L431.1,78.8ZM398.4,88.0L399.1,95.8L406.9,94.4L406.9,87.6L400.5,86.4ZM422.2,94.9L422.8,95.4L427.1,95.4L428.9,93.7L428.1,87.2L422.9,86.6L422.2,87.2ZM434.8,93.7L436.3,88.0L430.4,85.6L428.1,87.2L428.9,93.7ZM390.6,105.3L395.2,108.1L400.5,103.4L399.1,95.8L392.1,96.5ZM436.0,104.8L440.3,105.2L442.2,102.0L440.3,97.4L436.4,96.2L433.2,100.5ZM407.7,112.5L407.7,118.0L411.5,121.7L412.7,121.7L418.9,116.9L416.7,111.6ZM424.6,107.2L422.6,103.1L422.0,102.6L415.7,102.9L414.8,103.9L417.0,110.6ZM416.7,111.6L418.9,116.9L422.2,117.8L427.0,113.6L424.9,107.4L424.6,107.2L417.0,110.6ZM432.7,107.5L433.3,112.7L436.6,112.9L440.9,107.9L440.3,105.2L436.0,104.8ZM430.3,101.0L429.2,105.5L432.7,107.5L436.0,104.8L433.2,100.5ZM418.2,128.0L412.7,121.7L411.5,121.7L406.6,130.1L407.9,131.7L417.3,132.2ZM412.7,121.7L418.2,128.0L423.3,125.1L424.0,122.0L422.2,117.8L418.9,116.9ZM427.6,132.6L427.9,132.1L428.0,130.4L423.3,125.1L418.2,128.0L417.3,132.2L418.1,133.5ZM424.0,122.0L432.6,122.0L431.0,114.2L427.0,113.6L422.2,117.8ZM433.3,125.7L428.0,130.4L427.9,132.1L437.5,133.8L438.4,132.8ZM433.9,123.1L433.3,125.7L438.4,132.8L442.8,131.3L442.9,131.3L441.3,121.0ZM441.9,120.3L442.0,119.7L436.6,112.9L433.3,112.7L431.0,114.2L432.6,122.0L433.9,123.1L441.3,121.0ZM433.9,123.1L432.6,122.0L424.0,122.0L423.3,125.1L428.0,130.4L433.3,125.7ZM440.3,105.2L440.9,107.9L448.5,113.0L451.9,104.9L448.6,102.0L442.2,102.0ZM436.6,112.9L442.0,119.7L448.5,113.2L448.5,113.0L440.9,107.9ZM455.9,114.8L460.3,109.8L452.3,104.8L451.9,104.9L448.5,113.0L448.5,113.2L452.1,115.5ZM455.4,101.9L452.3,104.8L460.3,109.8L461.5,109.6L462.9,102.9ZM461.5,109.6L465.1,112.0L468.7,109.2L467.8,103.0L463.6,102.2L462.9,102.9ZM453.6,123.8L460.6,121.7L460.6,118.7L455.9,114.8L452.1,115.5ZM462.2,123.0L467.2,121.1L469.0,117.3L465.5,113.8L460.6,118.7L460.6,121.7ZM460.6,118.7L465.5,113.8L465.1,112.0L461.5,109.6L460.3,109.8L455.9,114.8ZM476.1,103.5L472.1,100.7L467.8,103.0L468.7,109.2L472.6,109.2L476.3,105.0ZM472.6,109.2L474.6,114.6L479.6,113.6L481.2,109.3L476.3,105.0ZM468.7,109.2L465.1,112.0L465.5,113.8L469.0,117.3L472.7,117.3L474.6,114.6L472.6,109.2ZM474.6,114.6L472.7,117.3L475.4,121.7L483.1,120.2L483.2,119.0L479.6,113.6ZM479.6,113.6L483.2,119.0L489.8,113.3L483.6,108.7L481.2,109.3ZM491.6,122.4L495.5,125.7L499.4,121.8L497.7,118.4L493.0,118.9ZM467.2,121.1L462.2,123.0L463.2,128.3L465.5,130.2L467.8,130.2L471.0,126.7ZM495.5,125.7L491.6,122.4L485.6,124.6L485.2,127.0L492.9,130.8L493.7,130.2L496.1,129.0ZM499.4,121.8L495.5,125.7L496.1,129.0L497.7,128.2L502.7,127.2L503.7,124.2L503.9,123.3ZM454.6,130.3L463.2,128.3L462.2,123.0L460.6,121.7L453.6,123.8L452.5,125.7L452.5,127.0ZM454.6,130.7L459.4,137.9L461.8,136.9L465.5,130.2L463.2,128.3L454.6,130.3ZM474.7,136.9L478.8,130.0L474.1,125.8L471.0,126.7L467.8,130.2L472.2,136.5ZM485.6,136.3L485.7,136.2L489.7,133.2L492.9,130.8L485.2,127.0L483.3,129.4ZM387.0,25.4L394.6,25.4L394.6,17.4L387.0,17.4ZM379.1,33.0L379.1,25.4L366.5,25.4L366.3,33.0ZM402.6,33.0L410.2,33.0L410.3,25.4L402.6,25.4ZM379.1,40.6L387.0,40.6L387.0,33.0L379.1,33.0Z"/>
<path fill="#fe9a1a" d="M381.1,48.2L387.6,49.1L388.7,48.2L388.7,40.6L381.1,40.6ZM396.2,48.2L402.4,49.0L403.3,48.4L403.3,40.6L396.2,40.6ZM387.6,56.3L379.9,56.3L379.9,64.1L387.6,64.1ZM417.8,56.7L410.0,57.6L410.0,64.1L417.8,64.1ZM387.6,70.7L387.6,64.1L379.9,64.1L379.9,70.7L385.5,72.4ZM485.2,70.1L486.8,61.9L481.5,63.0L482.8,69.9ZM461.4,78.6L463.5,71.6L455.9,70.1L455.0,71.0L455.0,78.0ZM462.5,80.1L461.4,86.2L462.7,87.5L469.3,87.5L470.1,86.7L468.8,80.1ZM364.9,73.7L364.8,79.1L376.9,79.1L376.9,73.0L372.8,70.8ZM395.2,70.7L393.1,72.3L393.1,79.1L400.5,79.1L400.5,72.3ZM385.3,86.4L385.3,79.1L376.9,79.1L376.9,86.2L383.9,87.5ZM393.0,86.6L393.0,79.2L385.5,79.0L385.3,79.1L385.3,86.4L391.6,87.5ZM400.5,79.1L393.1,79.1L393.0,79.2L393.0,86.6L398.4,88.0L400.5,86.4L400.5,79.2ZM400.5,86.4L406.9,87.6L408.1,86.6L408.1,79.1L408.0,79.0L400.5,79.2ZM376.4,94.9L383.4,95.4L383.9,95.0L383.9,87.5L376.9,86.2L376.4,86.7ZM391.6,87.5L385.3,86.4L383.9,87.5L383.9,95.0L390.8,95.3ZM392.1,96.5L399.1,95.8L399.1,95.8L398.4,88.0L393.0,86.6L391.6,87.5L390.8,95.3ZM408.1,86.6L406.9,87.6L406.9,94.4L408.2,95.5L414.9,94.6L414.9,87.3ZM407.3,104.7L408.2,103.9L408.2,95.5L406.9,94.4L399.1,95.8L399.1,95.8L400.5,103.4ZM414.9,94.6L408.2,95.5L408.2,103.9L414.8,103.9L415.7,102.9L415.7,95.2ZM415.7,102.9L422.0,102.6L422.8,95.4L422.2,94.9L415.7,95.2ZM422.8,95.4L422.0,102.6L422.6,103.1L429.0,99.9L427.1,95.4ZM414.8,103.9L408.2,103.9L407.3,104.7L407.3,112.0L407.7,112.5L416.7,111.6L417.0,110.6ZM429.0,99.9L422.6,103.1L424.6,107.2L424.9,107.4L429.2,105.5L430.3,101.0ZM452.5,125.7L453.6,123.8L452.1,115.5L448.5,113.2L442.0,119.7L441.9,120.3ZM485.6,124.6L491.6,122.4L493.0,118.9L489.9,113.3L489.8,113.3L483.2,119.0L483.1,120.2ZM475.4,121.7L472.7,117.3L469.0,117.3L467.2,121.1L471.0,126.7L474.1,125.8ZM483.3,129.4L485.2,127.0L485.6,124.6L483.1,120.2L475.4,121.7L474.1,125.8L478.8,130.0ZM451.6,141.7L458.7,139.1L459.4,137.9L454.6,130.7L452.3,133.5L451.2,141.5ZM478.5,141.9L480.7,140.2L485.6,136.3L483.3,129.4L478.8,130.0L474.7,136.9ZM472.2,136.5L467.8,130.2L465.5,130.2L461.8,136.9L467.7,139.9ZM474.7,136.9L472.2,136.5L467.7,139.9L467.2,146.0L468.4,147.6L472.1,145.2L475.7,144.2L478.5,141.9ZM453.6,158.8L455.4,160.5L456.9,157.7L460.9,153.5L461.1,153.3L457.7,148.8L453.6,148.8L452.5,150.0ZM445.5,135.2L442.8,131.3L438.4,132.8L437.5,133.8L436.4,138.8L438.7,142.2L446.4,140.9L446.4,140.9ZM435.9,157.5L435.9,148.1L428.5,147.6L428.2,147.9L428.2,158.0ZM441.1,149.2L437.2,147.3L435.9,148.1L435.9,157.5L436.6,157.9L443.4,157.5ZM338.0,113.2L352.6,114.6L358.0,109.7L349.3,101.9L336.7,110.1ZM352.2,136.1L353.7,137.2L357.7,139.2L361.7,140.2L364.7,137.2L367.7,132.2L370.7,128.2L370.7,122.8L358.0,109.7L352.6,114.6ZM402.6,17.4L410.3,17.4L410.3,9.8L402.6,9.8ZM379.1,25.4L379.1,17.4L366.8,17.4L366.5,25.4ZM402.6,25.4L410.3,25.4L410.3,17.4L402.6,17.4ZM379.1,33.0L387.0,33.0L387.0,25.4L379.1,25.4ZM394.6,33.0L402.6,33.0L402.6,25.4L394.6,25.4ZM402.6,40.6L410.2,40.6L410.2,33.0L402.6,33.0Z"/>
<path fill="#f86008" d="M372.4,49.0L373.6,48.1L373.6,40.6L366.0,40.6L366.0,40.6L365.8,48.2ZM373.6,48.1L379.8,49.2L381.1,48.2L381.1,40.6L373.6,40.6ZM372.4,56.2L372.4,49.0L365.8,48.2L365.5,56.6ZM372.4,49.0L372.4,56.2L372.8,56.5L379.8,56.2L379.8,49.2L373.6,48.1ZM379.8,56.2L379.9,56.3L387.6,56.3L387.6,49.1L381.1,48.2L379.8,49.2ZM388.7,48.2L387.6,49.1L387.6,56.3L395.2,56.3L395.2,49.1ZM372.8,64.1L372.8,56.5L372.4,56.2L365.5,56.6L365.3,64.1ZM379.9,56.3L379.8,56.2L372.8,56.5L372.8,64.1L379.9,64.1ZM387.6,56.3L387.6,64.1L395.2,64.1L395.2,56.3ZM372.8,64.1L365.3,64.1L364.9,73.7L372.8,70.8ZM379.9,64.1L372.8,64.1L372.8,70.8L376.9,73.0L379.9,70.7ZM393.1,72.3L395.2,70.7L395.2,64.1L387.6,64.1L387.6,70.7ZM368.3,87.2L364.6,83.1L364.5,87.6L360.2,87.5L360.4,93.8L368.1,93.8ZM379.9,70.7L376.9,73.0L376.9,79.1L385.3,79.1L385.5,79.0L385.5,72.4ZM368.3,87.2L376.4,86.7L376.9,86.2L376.9,79.1L364.8,79.1L364.6,83.1ZM376.3,94.9L376.4,94.9L376.4,86.7L368.3,87.2L368.1,93.8L368.5,94.4ZM376.3,94.9L368.5,94.4L367.3,101.3L375.0,104.7ZM375.0,104.7L381.6,107.7L383.4,106.3L383.4,95.4L376.4,94.9L376.3,94.9ZM383.9,95.0L383.4,95.4L383.4,106.3L390.6,105.3L392.1,96.5L390.8,95.3ZM381.6,107.7L382.6,108.2L382.6,108.2L382.6,108.2L382.6,108.2L382.6,108.2L382.6,108.2L382.6,108.2L382.6,108.2L382.6,108.2L384.4,113.7L384.4,113.7L384.4,113.7L384.4,113.7L384.6,120.3L394.5,118.4L396.2,112.0L395.2,108.1L390.6,105.3L383.4,106.3ZM395.2,108.1L396.2,112.0L407.3,112.0L407.3,104.7L400.5,103.4ZM407.7,112.5L407.3,112.0L396.2,112.0L394.5,118.4L397.7,121.5L407.7,118.0ZM406.6,130.1L411.5,121.7L407.7,118.0L397.7,121.5L399.5,128.9ZM442.9,131.3L452.5,127.0L452.5,125.7L441.9,120.3L441.3,121.0ZM454.6,130.7L454.6,130.3L452.5,127.0L442.9,131.3L442.8,131.3L445.5,135.2L452.3,133.5ZM461.8,136.9L459.4,137.9L458.7,139.1L461.0,144.9L467.2,146.0L467.7,139.9ZM458.7,139.1L451.6,141.7L453.6,148.8L457.7,148.8L461.0,144.9ZM467.2,146.0L461.0,144.9L457.7,148.8L461.1,153.3L465.8,149.4L468.4,147.6ZM407.9,139.9L407.9,131.7L406.6,130.1L399.5,128.9L394.8,134.3L398.7,138.2L400.8,141.0ZM418.1,139.4L418.4,139.9L428.0,139.9L428.2,139.6L427.6,132.6L418.1,133.5ZM427.6,132.6L428.2,139.6L436.4,138.8L437.5,133.8L427.9,132.1ZM452.3,133.5L445.5,135.2L446.4,140.9L451.2,141.5ZM436.4,138.8L428.2,139.6L428.0,139.9L428.5,147.6L435.9,148.1L437.2,147.3L438.7,142.2ZM445.5,148.1L446.4,140.9L438.7,142.2L437.2,147.3L441.1,149.2ZM446.4,140.9L446.4,140.9L445.5,148.1L448.1,150.4L452.5,150.0L453.6,148.8L451.6,141.7L451.2,141.5ZM444.0,157.7L448.1,150.4L445.5,148.1L441.1,149.2L443.4,157.5ZM444.3,158.0L453.6,158.8L452.5,150.0L448.1,150.4L444.0,157.7ZM453.6,158.8L444.3,158.0L444.3,169.1L451.5,170.2L452.0,167.2L454.1,163.0L455.4,160.5ZM320.4,95.6L321.7,97.2L325.7,102.2L330.7,106.2L335.7,111.2L336.0,111.9L336.7,110.1L336.7,87.1L320.4,86.8ZM370.7,128.2L373.7,125.2L377.7,125.7L382.7,126.7L384.7,127.3L384.7,125.5L384.4,113.7L376.2,114.6L374.9,120.1L370.7,122.8ZM379.1,17.4L379.1,9.8L367.0,9.8L366.8,17.4ZM379.1,17.4L387.0,17.4L387.0,9.8L379.1,9.8ZM387.0,17.4L394.6,17.4L394.6,9.8L387.0,9.8ZM394.6,17.4L402.6,17.4L402.6,9.8L394.6,9.8ZM379.1,25.4L387.0,25.4L387.0,17.4L379.1,17.4Z"/>
<path fill="#b03a08" d="M360.4,93.8L360.2,87.5L351.5,87.4L358.7,95.8ZM336.7,113.2L336.7,113.2L336.7,113.2L336.7,113.2L336.7,113.2L338.0,113.2L336.7,110.1L336.0,111.9L336.0,111.9L336.0,111.9L336.0,111.9L336.0,111.9L336.0,111.9L336.0,111.9L336.0,111.9L336.0,111.9L336.7,113.2ZM368.5,94.4L368.1,93.8L360.4,93.8L358.7,95.8L360.7,98.2L367.1,101.2L367.3,101.3ZM397.7,121.5L394.5,118.4L384.6,120.3L384.7,125.5L384.7,125.5L384.7,127.3L384.7,127.3L384.7,127.3L384.7,127.3L387.7,128.2L393.7,133.2L394.8,134.3L399.5,128.9ZM417.3,132.2L407.9,131.7L407.9,139.9L408.3,140.3L418.1,139.4L418.1,133.5ZM400.8,141.0L401.7,142.2L403.7,146.2L405.7,152.2L405.9,152.6L409.4,147.6L408.3,140.3L407.9,139.9ZM409.4,147.6L418.4,147.6L418.4,139.9L418.1,139.4L408.3,140.3ZM419.2,148.6L428.2,147.9L428.5,147.6L428.0,139.9L418.4,139.9L418.4,147.6ZM418.1,156.9L419.2,148.6L418.4,147.6L409.4,147.6L405.9,152.6L407.2,155.2L409.7,158.2L410.9,159.7ZM425.5,160.6L428.2,158.0L428.2,147.9L419.2,148.6L418.1,156.9ZM424.9,167.8L426.1,166.4L425.5,160.6L418.1,156.9L410.9,159.7L414.0,163.4L418.1,169.7L418.5,170.7ZM425.5,160.6L426.1,166.4L435.8,169.0L436.6,168.6L436.6,157.9L435.9,157.5L428.2,158.0ZM436.6,157.9L436.6,168.6L443.8,169.4L444.3,169.1L444.3,158.0L444.0,157.7L443.4,157.5ZM428.4,179.3L424.9,167.8L418.5,170.7L420.2,175.2L423.7,182.1ZM426.1,166.4L424.9,167.8L428.4,179.3L433.2,179.6L435.8,169.0ZM433.2,179.6L435.0,181.2L441.6,181.2L443.8,169.4L436.6,168.6L435.8,169.0ZM444.3,169.1L443.8,169.4L441.6,181.2L443.3,182.4L452.4,181.2L452.0,179.5L451.1,172.5L451.5,170.2ZM435.0,181.2L433.2,179.6L428.4,179.3L423.7,182.1L423.7,182.2L426.7,186.2L430.5,188.6L433.7,189.6ZM435.0,181.2L433.7,189.6L436.0,190.4L443.3,192.2L443.3,182.4L441.6,181.2ZM443.3,182.4L443.3,192.2L443.4,192.2L450.9,195.2L454.9,192.8L453.7,186.7L452.4,181.2ZM320.4,86.8L311.7,86.6L314.7,89.2L317.7,92.2L320.4,95.6ZM336.7,110.1L349.3,101.9L350.6,87.3L336.7,87.1ZM349.3,101.9L358.0,109.7L367.1,101.2L360.7,98.2L351.5,87.4L350.6,87.3ZM336.7,113.2L337.7,115.2L338.7,120.2L341.7,125.2L345.7,130.2L349.7,134.2L352.2,136.1L352.6,114.6L338.0,113.2ZM370.7,122.8L374.9,120.1L376.2,114.6L384.4,113.7L382.6,108.2L367.1,101.2L358.0,109.7ZM379.1,40.6L379.1,33.0L366.3,33.0L366.0,40.6Z"/>
</g>
<g stroke="#7a6848" stroke-opacity="0.5" stroke-width="0.3" stroke-linejoin="round">
<path d="M101.0,255.9 L144.3,255.9 L144.2,288.6 L146.4,292.9 L150.9,293.8 L153.6,292.2 L155.5,294.7 L160.0,296.1 L165.5,298.3 L167.3,297.3 L171.8,297.6 L172.7,300.1 L179.1,301.2 L182.7,300.2 L184.5,302.5 L187.6,299.5 L189.1,302.9 L194.5,301.5 L200.0,302.9 L202.7,300.3 L206.4,299.5 L210.0,301.2 L212.7,299.5 L217.3,301.2 L220.9,303.8 L225.5,304.7 L231.2,306.3 L231.2,332.3 L233.7,334.3 L235.7,337.3 L237.7,341.3 L239.7,345.3 L240.7,349.3 L240.7,354.3 L239.7,360.3 L238.7,365.3 L237.7,370.3 L236.7,373.3 L231.7,374.3 L227.7,376.3 L223.7,379.3 L219.7,382.3 L214.7,386.3 L209.7,390.3 L206.1,391.3 L199.8,395.5 L194.9,399.6 L190.9,403.8 L188.1,409.1 L186.0,413.3 L185.1,418.6 L186.0,425.6 L187.7,432.8 L188.9,438.9 L184.9,441.3 L177.4,438.3 L170.0,436.5 L164.5,434.7 L160.7,432.3 L157.7,428.3 L154.2,421.3 L152.1,415.8 L148.0,409.5 L143.7,404.3 L141.2,401.3 L139.7,398.3 L137.7,392.3 L135.7,388.3 L132.7,384.3 L127.7,379.3 L121.7,374.3 L116.7,372.8 L111.7,371.8 L107.7,371.3 L104.7,374.3 L101.7,378.3 L98.7,383.3 L95.7,386.3 L91.7,385.3 L87.7,383.3 L83.7,380.3 L79.7,376.3 L75.7,371.3 L72.7,366.3 L71.7,361.3 L69.7,357.3 L64.7,352.3 L59.7,348.3 L55.7,343.3 L51.7,338.3 L48.7,335.3 L45.7,332.7 L98.5,333.7Z" fill="#fed98e"/>
<path fill="#ffffcc" d="M130.2,286.7L122.7,286.7L122.7,294.3L129.2,295.2L130.2,294.3ZM106.4,302.3L106.4,295.1L99.8,294.3L99.5,302.7ZM129.2,295.2L129.2,302.4L136.4,302.4L136.4,295.1L130.2,294.3ZM136.4,295.1L136.4,302.4L136.6,302.6L142.9,302.3L144.2,296.5L143.0,295.0L137.3,294.5ZM144.0,303.7L151.8,302.8L151.9,302.6L150.6,296.2L144.2,296.5L142.9,302.3ZM129.2,302.4L129.2,310.2L136.6,310.2L136.6,302.6L136.4,302.4ZM136.6,302.6L136.6,310.2L144.0,310.2L144.0,303.7L142.9,302.3ZM159.3,302.4L159.2,302.3L151.9,302.6L151.8,302.8L151.8,310.2L159.3,310.2ZM127.1,318.4L129.2,316.8L129.2,310.2L121.6,310.2L121.6,316.8ZM136.6,316.9L136.6,310.2L129.2,310.2L129.2,316.8L134.5,318.4ZM142.0,318.4L144.0,316.8L144.0,310.2L136.6,310.2L136.6,316.9ZM159.5,310.3L159.3,310.2L151.8,310.2L151.8,316.8L157.4,318.4L159.5,316.8ZM94.4,339.9L94.2,333.6L85.5,333.5L92.7,341.9ZM70.7,359.3L70.7,359.3L70.7,359.3L70.7,359.3L70.7,359.3L72.0,359.3L70.7,356.2L70.0,358.0L70.0,358.0L70.0,358.0L70.0,358.0L70.0,358.0L70.0,358.0L70.0,358.0L70.0,358.0L70.0,358.0L70.7,359.3ZM119.5,325.1L127.0,325.3L127.1,325.2L127.1,318.4L121.6,316.8L119.5,318.5ZM157.4,318.4L151.8,316.8L149.8,318.4L149.8,325.1L156.9,325.3L157.4,324.9ZM126.1,342.6L133.1,341.9L133.1,341.9L132.4,334.1L127.0,332.7L125.6,333.6L124.8,341.4ZM110.3,341.0L102.5,340.5L101.3,347.4L109.0,350.8ZM117.9,341.1L117.4,341.5L117.4,352.4L124.6,351.4L126.1,342.6L124.8,341.4ZM124.6,351.4L129.2,354.2L134.5,349.5L133.1,341.9L126.1,342.6ZM115.6,353.8L116.6,354.3L116.6,354.3L116.6,354.3L116.6,354.3L116.6,354.3L116.6,354.3L116.6,354.3L116.6,354.3L116.6,354.3L118.4,359.8L118.4,359.8L118.4,359.8L118.4,359.8L118.6,366.4L128.5,364.5L130.2,358.1L129.2,354.2L124.6,351.4L117.4,352.4ZM141.7,358.6L141.3,358.1L130.2,358.1L128.5,364.5L131.7,367.6L141.7,364.1ZM140.6,376.2L145.5,367.8L141.7,364.1L131.7,367.6L133.5,375.0ZM141.9,386.0L141.9,377.8L140.6,376.2L133.5,375.0L128.8,380.4L132.7,384.3L134.8,387.1ZM134.8,387.1L135.7,388.3L137.7,392.3L139.7,398.3L139.9,398.7L143.4,393.7L142.3,386.4L141.9,386.0ZM143.4,393.7L152.4,393.7L152.4,386.0L152.1,385.5L142.3,386.4ZM153.2,394.7L162.2,394.0L162.5,393.7L162.0,386.0L152.4,386.0L152.4,393.7ZM152.1,403.0L153.2,394.7L152.4,393.7L143.4,393.7L139.9,398.7L141.2,401.3L143.7,404.3L144.9,405.8ZM159.5,406.7L162.2,404.1L162.2,394.0L153.2,394.7L152.1,403.0ZM169.9,403.6L169.9,394.2L162.5,393.7L162.2,394.0L162.2,404.1ZM158.9,413.9L160.1,412.5L159.5,406.7L152.1,403.0L144.9,405.8L148.0,409.5L152.1,415.8L152.5,416.8ZM159.5,406.7L160.1,412.5L169.8,415.1L170.6,414.7L170.6,404.0L169.9,403.6L162.2,404.1ZM162.4,425.4L158.9,413.9L152.5,416.8L154.2,421.3L157.7,428.2ZM160.1,412.5L158.9,413.9L162.4,425.4L167.2,425.7L169.8,415.1ZM167.2,425.7L169.0,427.3L175.6,427.3L177.8,415.5L170.6,414.7L169.8,415.1ZM178.3,415.2L177.8,415.5L175.6,427.3L177.3,428.5L186.4,427.3L186.0,425.6L185.1,418.6L185.5,416.3ZM169.0,427.3L167.2,425.7L162.4,425.4L157.7,428.2L157.7,428.3L160.7,432.3L164.5,434.7L167.7,435.7ZM169.0,427.3L167.7,435.7L170.0,436.5L177.3,438.3L177.3,428.5L175.6,427.3ZM177.3,428.5L177.3,438.3L177.4,438.3L184.9,441.3L188.9,438.9L187.7,432.8L186.4,427.3ZM54.4,332.9L45.7,332.7L48.7,335.3L51.7,338.3L54.4,341.7ZM54.4,341.7L55.7,343.3L59.7,348.3L64.7,352.3L69.7,357.3L70.0,358.0L70.7,356.2L70.7,333.2L54.4,332.9ZM70.7,356.2L83.3,348.0L84.6,333.4L70.7,333.2ZM83.3,348.0L92.0,355.8L101.1,347.3L94.7,344.3L85.5,333.5L84.6,333.4ZM72.0,359.3L86.6,360.7L92.0,355.8L83.3,348.0L70.7,356.2ZM70.7,359.3L71.7,361.3L72.7,366.3L75.7,371.3L79.7,376.3L83.7,380.3L86.2,382.2L86.6,360.7L72.0,359.3ZM104.7,374.3L107.7,371.3L111.7,371.8L116.7,372.8L118.7,373.4L118.7,371.6L118.4,359.8L110.2,360.7L108.9,366.2L104.7,368.9Z"/>
<path fill="#fed88c" d="M106.4,295.1L107.6,294.2L107.6,286.7L100.0,286.7L100.0,286.7L99.8,294.3ZM130.2,294.3L136.4,295.1L137.3,294.5L137.3,286.7L130.2,286.7ZM137.3,294.5L143.0,295.0L144.4,289.0L144.2,288.6L144.2,286.7L137.3,286.7ZM106.4,295.1L106.4,302.3L106.8,302.6L113.8,302.3L113.8,295.3L107.6,294.2ZM113.8,302.3L113.9,302.4L121.6,302.4L121.6,295.2L115.1,294.3L113.8,295.3ZM122.7,294.3L121.6,295.2L121.6,302.4L129.2,302.4L129.2,295.2ZM113.9,302.4L113.8,302.3L106.8,302.6L106.8,310.2L113.9,310.2ZM121.6,302.4L121.6,310.2L129.2,310.2L129.2,302.4ZM113.9,310.2L106.8,310.2L106.8,316.9L110.9,319.1L113.9,316.8ZM173.4,318.9L175.7,316.8L174.4,309.6L174.1,309.5L167.7,311.0L167.7,316.4ZM205.3,308.5L212.0,307.9L213.0,299.6L212.7,299.5L210.0,301.2L206.4,299.5L203.4,300.2ZM212.0,307.9L212.2,308.1L215.5,309.1L220.8,308.0L221.2,307.7L222.0,304.0L220.9,303.8L217.3,301.2L213.0,299.6ZM221.2,307.7L224.8,310.7L231.2,310.0L231.2,306.3L225.5,304.7L222.0,304.0ZM175.7,316.8L181.6,316.8L182.0,316.4L182.0,309.8L180.2,308.5L174.4,309.6ZM219.2,316.2L220.8,308.0L215.5,309.1L216.8,316.0ZM222.7,318.4L223.9,317.5L224.8,310.7L221.2,307.7L220.8,308.0L219.2,316.2ZM224.8,310.7L223.9,317.5L231.2,316.7L231.2,310.0ZM189.0,317.1L182.0,316.4L181.6,316.8L181.6,324.5L188.6,324.5L189.0,324.1ZM195.4,324.7L197.5,317.7L189.9,316.2L189.0,317.1L189.0,324.1ZM195.4,324.7L196.5,326.2L202.8,326.2L204.6,323.9L202.7,318.6L197.8,317.5L197.5,317.7ZM231.2,324.0L231.2,316.7L223.9,317.5L222.7,318.4L222.7,319.0L225.6,325.0ZM188.6,324.5L188.6,332.1L189.7,332.8L195.4,332.3L196.5,326.2L195.4,324.7L189.0,324.1ZM216.9,323.8L212.4,322.0L210.1,324.4L211.5,332.2L211.8,332.4L217.9,332.0L219.0,328.5ZM222.7,319.0L216.9,323.8L219.0,328.5L225.5,325.3L225.6,325.0ZM219.0,328.5L217.9,332.0L220.5,334.8L224.5,335.1L227.2,332.1L225.5,325.3ZM225.6,325.0L225.5,325.3L227.2,332.1L231.2,331.7L231.2,324.0ZM196.7,333.6L195.4,332.3L189.7,332.8L189.7,340.6L190.7,341.5L195.9,341.1ZM203.3,333.6L204.0,340.6L205.3,341.7L211.2,339.3L211.8,332.4L211.5,332.2L204.1,332.8ZM218.3,341.0L220.5,334.8L217.9,332.0L211.8,332.4L211.2,339.3L213.9,341.4ZM224.5,335.1L220.5,334.8L218.3,341.0L220.2,343.7L226.7,343.0L227.6,339.4ZM227.2,332.1L224.5,335.1L227.6,339.4L230.6,338.8L233.7,334.3L231.2,332.3L231.2,331.7ZM213.9,341.4L211.2,339.3L205.3,341.7L206.1,346.8L210.1,349.6L212.3,347.8ZM220.2,343.7L218.3,341.0L213.9,341.4L212.3,347.8L219.4,347.8ZM220.4,349.7L226.8,350.9L229.5,348.1L226.7,343.0L220.2,343.7L219.4,347.8ZM234.3,341.3L232.3,348.1L234.1,349.0L240.5,348.5L239.7,345.3L237.7,341.3L237.1,340.2ZM230.6,338.8L234.3,341.3L237.1,340.2L235.7,337.3L233.7,334.3L233.7,334.3ZM102.3,333.3L98.6,329.2L98.5,333.7L94.2,333.6L94.4,339.9L102.1,339.9ZM102.5,340.5L102.1,339.9L94.4,339.9L92.7,341.9L94.7,344.3L101.1,347.3L101.3,347.4ZM113.9,316.8L110.9,319.1L110.9,325.2L119.3,325.2L119.5,325.1L119.5,318.5ZM134.5,325.2L134.5,325.3L142.0,325.1L142.0,318.4L136.6,316.9L134.5,318.4ZM159.5,316.8L157.4,318.4L157.4,324.9L164.4,325.5L165.1,324.9L165.1,318.4ZM165.1,324.9L172.9,325.6L173.7,324.5L173.4,318.9L167.7,316.4L165.1,318.4ZM102.3,333.3L110.4,332.8L110.9,332.3L110.9,325.2L98.8,325.2L98.6,329.2ZM127.0,332.7L127.0,325.3L119.5,325.1L119.3,325.2L119.3,332.5L125.6,333.6ZM134.5,325.2L127.1,325.2L127.0,325.3L127.0,332.7L132.4,334.1L134.5,332.5L134.5,325.3ZM134.5,332.5L140.9,333.7L142.1,332.7L142.1,325.2L142.0,325.1L134.5,325.3ZM157.4,324.9L156.9,325.3L156.9,332.7L162.1,333.3L164.4,331.7L164.4,325.5ZM164.4,325.5L164.4,331.7L170.3,334.1L173.5,332.2L172.9,325.6L165.1,324.9ZM110.3,341.0L110.4,341.0L110.4,332.8L102.3,333.3L102.1,339.9L102.5,340.5ZM110.4,341.0L117.4,341.5L117.9,341.1L117.9,333.6L110.9,332.3L110.4,332.8ZM156.2,341.0L156.8,341.5L161.1,341.5L162.9,339.8L162.1,333.3L156.9,332.7L156.2,333.3ZM168.8,339.8L170.3,334.1L164.4,331.7L162.1,333.3L162.9,339.8ZM131.7,367.6L128.5,364.5L118.6,366.4L118.7,371.6L118.7,371.6L118.7,373.4L118.7,373.4L118.7,373.4L118.7,373.4L121.7,374.3L127.7,379.3L128.8,380.4L133.5,375.0ZM234.1,349.0L234.1,358.8L240.5,355.6L240.7,354.3L240.7,349.3L240.5,348.5ZM225.6,368.5L229.5,371.8L233.4,367.9L231.7,364.5L227.0,365.0ZM234.3,359.8L231.7,364.5L233.4,367.9L237.9,369.4L238.7,365.3L239.1,363.4ZM234.1,358.8L234.3,359.8L239.1,363.4L239.7,360.3L240.5,355.6ZM209.4,367.8L206.7,363.4L203.0,363.4L201.2,367.2L205.0,372.8L208.1,371.9ZM217.3,375.5L219.2,373.1L219.6,370.7L217.1,366.3L209.4,367.8L208.1,371.9L212.8,376.1ZM229.5,371.8L225.6,368.5L219.6,370.7L219.2,373.1L226.9,376.9L227.7,376.3L230.1,375.1ZM233.4,367.9L229.5,371.8L230.1,375.1L231.7,374.3L236.7,373.3L237.7,370.3L237.9,369.4ZM208.7,383.0L212.8,376.1L208.1,371.9L205.0,372.8L201.8,376.3L206.2,382.6ZM212.5,388.0L214.7,386.3L219.6,382.4L217.3,375.5L212.8,376.1L208.7,383.0ZM151.3,378.3L141.9,377.8L141.9,386.0L142.3,386.4L152.1,385.5L152.1,379.6ZM161.6,378.7L162.2,385.7L170.4,384.9L171.5,379.9L161.9,378.2ZM178.0,403.8L182.1,396.5L179.5,394.2L175.1,395.3L177.4,403.6ZM170.6,404.0L170.6,414.7L177.8,415.5L178.3,415.2L178.3,404.1L178.0,403.8L177.4,403.6ZM187.6,404.9L178.3,404.1L178.3,415.2L185.5,416.3L186.0,413.3L188.1,409.1L189.4,406.6ZM104.7,368.9L108.9,366.2L110.2,360.7L118.4,359.8L116.6,354.3L101.1,347.3L92.0,355.8ZM113.1,271.5L121.0,271.5L121.0,263.5L113.1,263.5ZM113.1,286.7L113.1,279.1L100.3,279.1L100.0,286.7Z"/>
<path fill="#fe9a1a" d="M107.6,294.2L113.8,295.3L115.1,294.3L115.1,286.7L107.6,286.7ZM115.1,294.3L121.6,295.2L122.7,294.3L122.7,286.7L115.1,286.7ZM143.0,295.0L144.2,296.5L150.6,296.2L153.5,292.3L150.9,293.8L146.4,292.9L144.4,289.0ZM150.6,296.2L151.9,302.6L159.2,302.3L159.2,295.8L155.5,294.7L153.6,292.2L153.5,292.3ZM166.5,297.7L165.5,298.3L160.0,296.1L159.2,295.8L159.2,302.3L159.3,302.4L166.5,302.4ZM106.8,310.2L106.8,302.6L106.4,302.3L99.5,302.7L99.3,310.2ZM121.6,302.4L113.9,302.4L113.9,310.2L121.6,310.2ZM106.8,310.2L99.3,310.2L98.9,319.8L106.8,316.9ZM121.6,316.8L121.6,310.2L113.9,310.2L113.9,316.8L119.5,318.5ZM151.8,310.2L144.0,310.2L144.0,316.8L149.8,318.4L151.8,316.8ZM167.7,316.4L167.7,311.0L166.7,310.0L159.5,310.3L159.5,316.8L165.1,318.4ZM190.1,310.0L196.2,308.4L196.7,302.1L194.5,301.5L189.1,302.9L187.9,300.2L187.9,308.2ZM196.2,308.4L198.2,310.2L204.7,309.3L205.3,308.5L203.4,300.2L202.7,300.3L200.0,302.9L196.7,302.1ZM182.0,316.4L189.0,317.1L189.9,316.2L190.1,310.0L187.9,308.2L182.0,309.8ZM197.5,317.7L197.8,317.5L198.2,310.2L196.2,308.4L190.1,310.0L189.9,316.2ZM202.7,318.6L206.0,315.7L204.7,309.3L198.2,310.2L197.8,317.5ZM212.2,308.1L212.0,307.9L205.3,308.5L204.7,309.3L206.0,315.7L211.0,316.6ZM215.5,309.1L212.2,308.1L211.0,316.6L212.4,317.9L216.8,316.0ZM173.7,324.5L181.6,324.5L181.6,316.8L175.7,316.8L173.4,318.9ZM210.1,324.4L212.4,322.0L212.4,317.9L211.0,316.6L206.0,315.7L202.7,318.6L204.6,323.9ZM222.7,319.0L222.7,318.4L219.2,316.2L216.8,316.0L212.4,317.9L212.4,322.0L216.9,323.8ZM173.5,332.2L174.9,332.9L181.6,331.7L181.6,324.5L173.7,324.5L172.9,325.6ZM181.6,324.5L181.6,331.7L183.3,332.9L188.6,332.1L188.6,324.5ZM196.5,326.2L195.4,332.3L196.7,333.6L203.3,333.6L204.1,332.8L202.8,326.2ZM204.1,332.8L211.5,332.2L210.1,324.4L204.6,323.9L202.8,326.2ZM183.3,332.9L181.6,331.7L174.9,332.9L177.6,339.9L182.7,339.9ZM189.7,340.6L189.7,332.8L188.6,332.1L183.3,332.9L182.7,339.9L183.4,340.6ZM197.0,341.9L204.0,340.6L203.3,333.6L196.7,333.6L195.9,341.1ZM182.6,348.1L185.9,351.0L186.3,350.9L189.4,348.0L190.7,341.5L189.7,340.6L183.4,340.6ZM190.7,341.5L189.4,348.0L196.9,349.0L197.6,348.3L197.0,341.9L195.9,341.1ZM197.6,348.3L201.8,349.1L206.1,346.8L205.3,341.7L204.0,340.6L197.0,341.9ZM227.6,339.4L226.7,343.0L229.5,348.1L232.3,348.1L234.3,341.3L230.6,338.8ZM98.9,319.8L98.8,325.2L110.9,325.2L110.9,319.1L106.8,316.9ZM129.2,316.8L127.1,318.4L127.1,325.2L134.5,325.2L134.5,318.4ZM149.8,318.4L144.0,316.8L142.0,318.4L142.0,325.1L142.1,325.2L149.6,325.2L149.8,325.1ZM142.1,325.2L142.1,332.7L148.9,333.4L149.6,332.8L149.6,325.2ZM149.6,325.2L149.6,332.8L156.2,333.3L156.9,332.7L156.9,325.3L149.8,325.1ZM132.4,334.1L133.1,341.9L140.9,340.5L140.9,333.7L134.5,332.5ZM148.9,333.4L148.9,340.7L149.7,341.3L156.2,341.0L156.2,333.3L149.6,332.8ZM177.6,339.9L174.9,332.9L173.5,332.2L170.3,334.1L168.8,339.8L170.4,342.3L174.3,343.5ZM109.0,350.8L115.6,353.8L117.4,352.4L117.4,341.5L110.4,341.0L110.3,341.0ZM141.3,350.8L142.2,350.0L142.2,341.6L140.9,340.5L133.1,341.9L133.1,341.9L134.5,349.5ZM148.9,340.7L142.2,341.6L142.2,350.0L148.8,350.0L149.7,349.0L149.7,341.3ZM149.7,349.0L156.0,348.7L156.8,341.5L156.2,341.0L149.7,341.3ZM170.4,342.3L168.8,339.8L162.9,339.8L161.1,341.5L163.0,346.0L164.3,347.1L167.2,346.6ZM174.3,351.3L174.9,354.0L182.5,359.1L185.9,351.0L182.6,348.1L176.2,348.1ZM170.6,359.0L176.0,365.8L182.5,359.3L182.5,359.1L174.9,354.0ZM186.5,371.8L187.6,369.9L186.1,361.6L182.5,359.3L176.0,365.8L175.9,366.4ZM176.9,377.4L186.5,373.1L186.5,371.8L175.9,366.4L175.3,367.1ZM189.4,348.0L186.3,350.9L194.3,355.9L195.5,355.7L196.9,349.0ZM195.5,355.7L199.1,358.1L202.7,355.3L201.8,349.1L197.6,348.3L196.9,349.0ZM210.1,349.6L206.1,346.8L201.8,349.1L202.7,355.3L206.6,355.3L210.3,351.1ZM215.2,355.4L217.6,354.8L220.4,349.7L219.4,347.8L212.3,347.8L210.1,349.6L210.3,351.1ZM223.9,359.4L226.8,356.8L226.8,350.9L220.4,349.7L217.6,354.8L223.8,359.4ZM206.6,355.3L208.6,360.7L213.6,359.7L215.2,355.4L210.3,351.1ZM202.7,355.3L199.1,358.1L199.5,359.9L203.0,363.4L206.7,363.4L208.6,360.7L206.6,355.3ZM208.6,360.7L206.7,363.4L209.4,367.8L217.1,366.3L217.2,365.1L213.6,359.7ZM213.6,359.7L217.2,365.1L223.8,359.4L217.6,354.8L215.2,355.4ZM219.6,370.7L225.6,368.5L227.0,365.0L223.9,359.4L223.8,359.4L217.2,365.1L217.1,366.3ZM227.0,365.0L231.7,364.5L234.3,359.8L234.1,358.8L226.8,356.8L223.9,359.4ZM229.5,348.1L226.8,350.9L226.8,356.8L234.1,358.8L234.1,349.0L232.3,348.1ZM219.6,382.4L219.7,382.3L223.7,379.3L226.9,376.9L219.2,373.1L217.3,375.5ZM206.2,382.6L201.8,376.3L199.5,376.3L195.8,383.0L201.7,386.0ZM208.7,383.0L206.2,382.6L201.7,386.0L201.2,392.1L202.4,393.7L206.1,391.3L209.7,390.3L212.5,388.0ZM170.4,384.9L162.2,385.7L162.0,386.0L162.5,393.7L169.9,394.2L171.2,393.4L172.7,388.3ZM179.5,394.2L180.4,387.0L172.7,388.3L171.2,393.4L175.1,395.3ZM86.2,382.2L87.7,383.3L91.7,385.3L95.7,386.3L98.7,383.3L101.7,378.3L104.7,374.3L104.7,368.9L92.0,355.8L86.6,360.7ZM121.0,263.5L128.6,263.5L128.6,255.9L121.0,255.9ZM128.6,263.5L136.6,263.5L136.6,255.9L128.6,255.9ZM121.0,271.5L128.6,271.5L128.6,263.5L121.0,263.5ZM136.6,271.5L144.3,271.5L144.3,263.5L136.6,263.5ZM113.1,279.1L121.0,279.1L121.0,271.5L113.1,271.5ZM128.6,279.1L136.6,279.1L136.6,271.5L128.6,271.5ZM136.6,279.1L144.2,279.1L144.3,271.5L136.6,271.5ZM113.1,286.7L121.0,286.7L121.0,279.1L113.1,279.1ZM136.6,286.7L144.2,286.7L144.2,279.1L136.6,279.1Z"/>
<path fill="#f86008" d="M166.5,302.4L166.7,302.6L172.9,302.3L174.8,300.5L172.7,300.1L171.8,297.6L167.3,297.3L166.5,297.7ZM151.8,302.8L144.0,303.7L144.0,310.2L151.8,310.2ZM166.7,302.6L166.5,302.4L159.3,302.4L159.3,310.2L159.5,310.3L166.7,310.0ZM174.1,309.5L172.9,302.3L166.7,302.6L166.7,310.0L167.7,311.0ZM172.9,302.3L174.1,309.5L174.4,309.6L180.2,308.5L180.2,300.9L179.1,301.2L174.8,300.5ZM180.2,308.5L182.0,309.8L187.9,308.2L187.9,300.2L187.6,299.5L184.5,302.5L182.7,300.2L180.2,300.9ZM182.7,339.9L177.6,339.9L174.3,343.5L176.2,348.1L182.6,348.1L183.4,340.6ZM119.3,332.5L119.3,325.2L110.9,325.2L110.9,332.3L117.9,333.6ZM142.1,332.7L140.9,333.7L140.9,340.5L142.2,341.6L148.9,340.7L148.9,333.4ZM156.8,341.5L156.0,348.7L156.6,349.2L163.0,346.0L161.1,341.5ZM170.0,350.9L174.3,351.3L176.2,348.1L174.3,343.5L170.4,342.3L167.2,346.6ZM129.2,354.2L130.2,358.1L141.3,358.1L141.3,350.8L134.5,349.5ZM141.7,358.6L141.7,364.1L145.5,367.8L146.7,367.8L152.9,363.0L150.7,357.7ZM158.6,353.3L156.6,349.2L156.0,348.7L149.7,349.0L148.8,350.0L151.0,356.7ZM158.9,353.5L161.0,359.7L165.0,360.3L167.3,358.8L166.7,353.6L163.2,351.6ZM166.7,353.6L167.3,358.8L170.6,359.0L174.9,354.0L174.3,351.3L170.0,350.9ZM163.0,346.0L156.6,349.2L158.6,353.3L158.9,353.5L163.2,351.6L164.3,347.1ZM164.3,347.1L163.2,351.6L166.7,353.6L170.0,350.9L167.2,346.6ZM146.7,367.8L152.2,374.1L157.3,371.2L158.0,368.1L156.2,363.9L152.9,363.0ZM161.6,378.7L161.9,378.2L162.0,376.5L157.3,371.2L152.2,374.1L151.3,378.3L152.1,379.6ZM167.3,371.8L162.0,376.5L161.9,378.2L171.5,379.9L172.4,378.9ZM167.9,369.2L167.3,371.8L172.4,378.9L176.8,377.4L176.9,377.4L175.3,367.1ZM167.9,369.2L166.6,368.1L158.0,368.1L157.3,371.2L162.0,376.5L167.3,371.8ZM188.6,376.8L188.6,376.4L186.5,373.1L176.9,377.4L176.8,377.4L179.5,381.3L186.3,379.6ZM189.9,360.9L194.3,355.9L186.3,350.9L185.9,351.0L182.5,359.1L182.5,359.3L186.1,361.6ZM194.6,364.8L199.5,359.9L199.1,358.1L195.5,355.7L194.3,355.9L189.9,360.9ZM201.2,367.2L196.2,369.1L197.2,374.4L199.5,376.3L201.8,376.3L205.0,372.8ZM195.8,383.0L193.4,384.0L192.7,385.2L195.0,391.0L201.2,392.1L201.7,386.0ZM192.7,385.2L185.6,387.8L187.6,394.9L191.7,394.9L195.0,391.0ZM201.2,392.1L195.0,391.0L191.7,394.9L195.1,399.4L199.8,395.5L202.4,393.7ZM187.6,404.9L189.4,406.6L190.9,403.8L194.9,399.6L195.1,399.4L191.7,394.9L187.6,394.9L186.5,396.1ZM152.1,385.5L152.4,386.0L162.0,386.0L162.2,385.7L161.6,378.7L152.1,379.6ZM179.5,381.3L176.8,377.4L172.4,378.9L171.5,379.9L170.4,384.9L172.7,388.3L180.4,387.0L180.4,387.0ZM178.3,404.1L187.6,404.9L186.5,396.1L182.1,396.5L178.0,403.8ZM113.1,263.5L113.1,255.9L101.0,255.9L100.8,263.5ZM113.1,263.5L121.0,263.5L121.0,255.9L113.1,255.9ZM113.1,271.5L113.1,263.5L100.8,263.5L100.5,271.5ZM121.0,286.7L128.6,286.7L128.6,279.1L121.0,279.1ZM128.6,286.7L136.6,286.7L136.6,279.1L128.6,279.1Z"/>
<path fill="#b03a08" d="M125.6,333.6L119.3,332.5L117.9,333.6L117.9,341.1L124.8,341.4ZM148.8,350.0L142.2,350.0L141.3,350.8L141.3,358.1L141.7,358.6L150.7,357.7L151.0,356.7ZM150.7,357.7L152.9,363.0L156.2,363.9L161.0,359.7L158.9,353.5L158.6,353.3L151.0,356.7ZM152.2,374.1L146.7,367.8L145.5,367.8L140.6,376.2L141.9,377.8L151.3,378.3ZM158.0,368.1L166.6,368.1L165.0,360.3L161.0,359.7L156.2,363.9ZM175.9,366.4L176.0,365.8L170.6,359.0L167.3,358.8L165.0,360.3L166.6,368.1L167.9,369.2L175.3,367.1ZM187.6,369.9L194.6,367.8L194.6,364.8L189.9,360.9L186.1,361.6ZM196.2,369.1L201.2,367.2L203.0,363.4L199.5,359.9L194.6,364.8L194.6,367.8ZM188.6,376.4L197.2,374.4L196.2,369.1L194.6,367.8L187.6,369.9L186.5,371.8L186.5,373.1ZM188.6,376.8L193.4,384.0L195.8,383.0L199.5,376.3L197.2,374.4L188.6,376.4ZM185.6,387.8L192.7,385.2L193.4,384.0L188.6,376.8L186.3,379.6L185.2,387.6ZM186.3,379.6L179.5,381.3L180.4,387.0L185.2,387.6ZM180.4,387.0L180.4,387.0L179.5,394.2L182.1,396.5L186.5,396.1L187.6,394.9L185.6,387.8L185.2,387.6ZM175.1,395.3L171.2,393.4L169.9,394.2L169.9,403.6L170.6,404.0L177.4,403.6ZM136.6,263.5L144.3,263.5L144.3,255.9L136.6,255.9ZM128.6,271.5L136.6,271.5L136.6,263.5L128.6,263.5ZM113.1,279.1L113.1,271.5L100.5,271.5L100.3,279.1ZM121.0,279.1L128.6,279.1L128.6,271.5L121.0,271.5Z"/>
</g>
<g stroke="#7a6848" stroke-opacity="0.5" stroke-width="0.3" stroke-linejoin="round">
<path d="M366.8,255.8 L410.1,255.8 L410.0,288.5 L412.2,292.8 L416.7,293.7 L419.4,292.1 L421.3,294.6 L425.8,296.0 L431.3,298.2 L433.1,297.2 L437.6,297.5 L438.5,300.0 L444.9,301.1 L448.5,300.1 L450.3,302.4 L453.4,299.4 L454.9,302.8 L460.3,301.4 L465.8,302.8 L468.5,300.2 L472.2,299.4 L475.8,301.1 L478.5,299.4 L483.1,301.1 L486.7,303.7 L491.3,304.6 L497.0,306.2 L497.0,332.2 L499.5,334.2 L501.5,337.2 L503.5,341.2 L505.5,345.2 L506.5,349.2 L506.5,354.2 L505.5,360.2 L504.5,365.2 L503.5,370.2 L502.5,373.2 L497.5,374.2 L493.5,376.2 L489.5,379.2 L485.5,382.2 L480.5,386.2 L475.5,390.2 L471.9,391.2 L465.6,395.4 L460.7,399.5 L456.7,403.7 L453.9,409.0 L451.8,413.2 L450.9,418.5 L451.8,425.5 L453.5,432.7 L454.7,438.8 L450.7,441.2 L443.2,438.2 L435.8,436.4 L430.3,434.6 L426.5,432.2 L423.5,428.2 L420.0,421.2 L417.9,415.7 L413.8,409.4 L409.5,404.2 L407.0,401.2 L405.5,398.2 L403.5,392.2 L401.5,388.2 L398.5,384.2 L393.5,379.2 L387.5,374.2 L382.5,372.7 L377.5,371.7 L373.5,371.2 L370.5,374.2 L367.5,378.2 L364.5,383.2 L361.5,386.2 L357.5,385.2 L353.5,383.2 L349.5,380.2 L345.5,376.2 L341.5,371.2 L338.5,366.2 L337.5,361.2 L335.5,357.2 L330.5,352.2 L325.5,348.2 L321.5,343.2 L317.5,338.2 L314.5,335.2 L311.5,332.6 L364.3,333.6Z" fill="#fed98e"/>
<path fill="#ffffcc" d="M372.2,295.0L373.4,294.1L373.4,286.6L365.8,286.6L365.8,286.6L365.6,294.2ZM373.4,294.1L379.6,295.2L380.9,294.2L380.9,286.6L373.4,286.6ZM396.0,286.6L388.5,286.6L388.5,294.2L395.0,295.1L396.0,294.2ZM372.2,302.2L372.2,295.0L365.6,294.2L365.3,302.6ZM388.5,294.2L387.4,295.1L387.4,302.3L395.0,302.3L395.0,295.1ZM395.0,295.1L395.0,302.3L402.2,302.3L402.2,295.0L396.0,294.2ZM432.3,302.3L432.5,302.5L438.7,302.2L440.6,300.4L438.5,300.0L437.6,297.5L433.1,297.2L432.3,297.6ZM395.0,302.3L395.0,310.1L402.4,310.1L402.4,302.5L402.2,302.3ZM402.4,302.5L402.4,310.1L409.8,310.1L409.8,303.6L408.7,302.2ZM425.1,302.3L425.0,302.2L417.7,302.5L417.6,302.7L417.6,310.1L425.1,310.1ZM432.5,302.5L432.3,302.3L425.1,302.3L425.1,310.1L425.3,310.2L432.5,309.9ZM439.9,309.4L438.7,302.2L432.5,302.5L432.5,309.9L433.5,310.9ZM372.6,310.1L365.1,310.1L364.7,319.7L372.6,316.8ZM387.4,316.7L387.4,310.1L379.7,310.1L379.7,316.7L385.3,318.4ZM402.4,316.8L402.4,310.1L395.0,310.1L395.0,316.7L400.3,318.3ZM407.8,318.3L409.8,316.7L409.8,310.1L402.4,310.1L402.4,316.8ZM425.3,310.2L425.1,310.1L417.6,310.1L417.6,316.7L423.2,318.3L425.3,316.7ZM433.5,316.3L433.5,310.9L432.5,309.9L425.3,310.2L425.3,316.7L430.9,318.3ZM438.7,302.2L439.9,309.4L440.2,309.5L446.0,308.4L446.0,300.8L444.9,301.1L440.6,300.4ZM441.5,316.7L447.4,316.7L447.8,316.3L447.8,309.7L446.0,308.4L440.2,309.5ZM439.5,324.4L447.4,324.4L447.4,316.7L441.5,316.7L439.2,318.8ZM439.3,332.1L440.7,332.8L447.4,331.6L447.4,324.4L439.5,324.4L438.7,325.5ZM469.9,332.7L477.3,332.1L475.9,324.3L470.4,323.8L468.6,326.1ZM449.1,332.8L447.4,331.6L440.7,332.8L443.4,339.8L448.5,339.8ZM368.1,333.2L364.4,329.1L364.3,333.6L360.0,333.5L360.2,339.8L367.9,339.8ZM360.2,339.8L360.0,333.5L351.3,333.4L358.5,341.8ZM336.5,359.2L336.5,359.2L336.5,359.2L336.5,359.2L336.5,359.2L337.8,359.2L336.5,356.1L335.8,357.9L335.8,357.9L335.8,357.9L335.8,357.9L335.8,357.9L335.8,357.9L335.8,357.9L335.8,357.9L335.8,357.9L336.5,359.2ZM364.7,319.7L364.6,325.1L376.7,325.1L376.7,319.0L372.6,316.8ZM385.3,325.0L392.8,325.2L392.9,325.1L392.9,318.3L387.4,316.7L385.3,318.4ZM423.2,318.3L417.6,316.7L415.6,318.3L415.6,325.0L422.7,325.2L423.2,324.8ZM425.3,316.7L423.2,318.3L423.2,324.8L430.2,325.4L430.9,324.8L430.9,318.3ZM430.9,324.8L438.7,325.5L439.5,324.4L439.2,318.8L433.5,316.3L430.9,318.3ZM368.1,333.2L376.2,332.7L376.7,332.2L376.7,325.1L364.6,325.1L364.4,329.1ZM385.1,332.4L385.1,325.1L376.7,325.1L376.7,332.2L383.7,333.5ZM415.4,325.1L415.4,332.7L422.0,333.2L422.7,332.6L422.7,325.2L415.6,325.0ZM423.2,324.8L422.7,325.2L422.7,332.6L427.9,333.2L430.2,331.6L430.2,325.4ZM391.4,333.5L385.1,332.4L383.7,333.5L383.7,341.0L390.6,341.3ZM391.9,342.5L398.9,341.8L398.9,341.8L398.2,334.0L392.8,332.6L391.4,333.5L390.6,341.3ZM398.2,334.0L398.9,341.8L406.7,340.4L406.7,333.6L400.3,332.4ZM407.9,332.6L406.7,333.6L406.7,340.4L408.0,341.5L414.7,340.6L414.7,333.3ZM414.7,333.3L414.7,340.6L415.5,341.2L422.0,340.9L422.0,333.2L415.4,332.7ZM434.6,339.7L436.1,334.0L430.2,331.6L427.9,333.2L428.7,339.7ZM443.4,339.8L440.7,332.8L439.3,332.1L436.1,334.0L434.6,339.7L436.2,342.2L440.1,343.4ZM376.1,340.9L368.3,340.4L367.1,347.3L374.8,350.7ZM374.8,350.7L381.4,353.7L383.2,352.3L383.2,341.4L376.2,340.9L376.1,340.9ZM383.7,341.0L383.2,341.4L383.2,352.3L390.4,351.3L391.9,342.5L390.6,341.3ZM390.4,351.3L395.0,354.1L400.3,349.4L398.9,341.8L391.9,342.5ZM414.7,340.6L408.0,341.5L408.0,349.9L414.6,349.9L415.5,348.9L415.5,341.2ZM415.5,348.9L421.8,348.6L422.6,341.4L422.0,340.9L415.5,341.2ZM422.6,341.4L421.8,348.6L422.4,349.1L428.8,345.9L426.9,341.4ZM436.2,342.2L434.6,339.7L428.7,339.7L426.9,341.4L428.8,345.9L430.1,347.0L433.0,346.5ZM381.4,353.7L382.4,354.2L382.4,354.2L382.4,354.2L382.4,354.2L382.4,354.2L382.4,354.2L382.4,354.2L382.4,354.2L382.4,354.2L384.2,359.7L384.2,359.7L384.2,359.7L384.2,359.7L384.4,366.3L394.3,364.4L396.0,358.0L395.0,354.1L390.4,351.3L383.2,352.3ZM395.0,354.1L396.0,358.0L407.1,358.0L407.1,350.7L400.3,349.4ZM407.5,358.5L407.1,358.0L396.0,358.0L394.3,364.4L397.5,367.5L407.5,364.0ZM414.6,349.9L408.0,349.9L407.1,350.7L407.1,358.0L407.5,358.5L416.5,357.6L416.8,356.6ZM407.5,358.5L407.5,364.0L411.3,367.7L412.5,367.7L418.7,362.9L416.5,357.6ZM424.4,353.2L422.4,349.1L421.8,348.6L415.5,348.9L414.6,349.9L416.8,356.6ZM416.5,357.6L418.7,362.9L422.0,363.8L426.8,359.6L424.7,353.4L424.4,353.2L416.8,356.6ZM424.7,353.4L426.8,359.6L430.8,360.2L433.1,358.7L432.5,353.5L429.0,351.5ZM432.5,353.5L433.1,358.7L436.4,358.9L440.7,353.9L440.1,351.2L435.8,350.8ZM428.8,345.9L422.4,349.1L424.4,353.2L424.7,353.4L429.0,351.5L430.1,347.0ZM430.1,347.0L429.0,351.5L432.5,353.5L435.8,350.8L433.0,346.5ZM397.5,367.5L394.3,364.4L384.4,366.3L384.5,371.5L384.5,371.5L384.5,373.3L384.5,373.3L384.5,373.3L384.5,373.3L387.5,374.2L393.5,379.2L394.6,380.3L399.3,374.9ZM406.4,376.1L411.3,367.7L407.5,364.0L397.5,367.5L399.3,374.9ZM418.0,374.0L412.5,367.7L411.3,367.7L406.4,376.1L407.7,377.7L417.1,378.2ZM412.5,367.7L418.0,374.0L423.1,371.1L423.8,368.0L422.0,363.8L418.7,362.9ZM427.4,378.6L427.7,378.1L427.8,376.4L423.1,371.1L418.0,374.0L417.1,378.2L417.9,379.5ZM423.8,368.0L432.4,368.0L430.8,360.2L426.8,359.6L422.0,363.8ZM441.7,366.3L441.8,365.7L436.4,358.9L433.1,358.7L430.8,360.2L432.4,368.0L433.7,369.1L441.1,367.0ZM433.7,369.1L432.4,368.0L423.8,368.0L423.1,371.1L427.8,376.4L433.1,371.7ZM467.0,392.0L460.8,390.9L457.5,394.8L460.9,399.3L465.6,395.4L468.2,393.6ZM407.7,385.9L407.7,377.7L406.4,376.1L399.3,374.9L394.6,380.3L398.5,384.2L400.6,387.0ZM417.1,378.2L407.7,377.7L407.7,385.9L408.1,386.3L417.9,385.4L417.9,379.5ZM417.9,385.4L418.2,385.9L427.8,385.9L428.0,385.6L427.4,378.6L417.9,379.5ZM445.3,381.2L442.6,377.3L438.2,378.8L437.3,379.8L436.2,384.8L438.5,388.2L446.2,386.9L446.2,386.9ZM400.6,387.0L401.5,388.2L403.5,392.2L405.5,398.2L405.7,398.6L409.2,393.6L408.1,386.3L407.7,385.9ZM409.2,393.6L418.2,393.6L418.2,385.9L417.9,385.4L408.1,386.3ZM436.2,384.8L428.0,385.6L427.8,385.9L428.3,393.6L435.7,394.1L437.0,393.3L438.5,388.2ZM417.9,402.9L419.0,394.6L418.2,393.6L409.2,393.6L405.7,398.6L407.0,401.2L409.5,404.2L410.7,405.7ZM435.7,403.5L435.7,394.1L428.3,393.6L428.0,393.9L428.0,404.0ZM440.9,395.2L437.0,393.3L435.7,394.1L435.7,403.5L436.4,403.9L443.2,403.5ZM444.1,404.0L453.4,404.8L452.3,396.0L447.9,396.4L443.8,403.7ZM424.7,413.8L425.9,412.4L425.3,406.6L417.9,402.9L410.7,405.7L413.8,409.4L417.9,415.7L418.3,416.7ZM425.3,406.6L425.9,412.4L435.6,415.0L436.4,414.6L436.4,403.9L435.7,403.5L428.0,404.0ZM436.4,403.9L436.4,414.6L443.6,415.4L444.1,415.1L444.1,404.0L443.8,403.7L443.2,403.5ZM428.2,425.3L424.7,413.8L418.3,416.7L420.0,421.2L423.5,428.1ZM425.9,412.4L424.7,413.8L428.2,425.3L433.0,425.6L435.6,415.0ZM433.0,425.6L434.8,427.2L441.4,427.2L443.6,415.4L436.4,414.6L435.6,415.0ZM444.1,415.1L443.6,415.4L441.4,427.2L443.1,428.4L452.2,427.2L451.8,425.5L450.9,418.5L451.3,416.2ZM434.8,427.2L433.0,425.6L428.2,425.3L423.5,428.1L423.5,428.2L426.5,432.2L430.3,434.6L433.5,435.6ZM434.8,427.2L433.5,435.6L435.8,436.4L443.1,438.2L443.1,428.4L441.4,427.2ZM443.1,428.4L443.1,438.2L443.2,438.2L450.7,441.2L454.7,438.8L453.5,432.7L452.2,427.2ZM320.2,341.6L321.5,343.2L325.5,348.2L330.5,352.2L335.5,357.2L335.8,357.9L336.5,356.1L336.5,333.1L320.2,332.8ZM336.5,356.1L349.1,347.9L350.4,333.3L336.5,333.1ZM349.1,347.9L357.8,355.7L366.9,347.2L360.5,344.2L351.3,333.4L350.4,333.3ZM337.8,359.2L352.4,360.6L357.8,355.7L349.1,347.9L336.5,356.1ZM336.5,359.2L337.5,361.2L338.5,366.2L341.5,371.2L345.5,376.2L349.5,380.2L352.0,382.1L352.4,360.6L337.8,359.2ZM352.0,382.1L353.5,383.2L357.5,385.2L361.5,386.2L364.5,383.2L367.5,378.2L370.5,374.2L370.5,368.8L357.8,355.7L352.4,360.6ZM370.5,374.2L373.5,371.2L377.5,371.7L382.5,372.7L384.5,373.3L384.5,371.5L384.2,359.7L376.0,360.6L374.7,366.1L370.5,368.8ZM378.9,263.4L378.9,255.8L366.8,255.8L366.6,263.4ZM378.9,263.4L386.8,263.4L386.8,255.8L378.9,255.8ZM386.8,263.4L394.4,263.4L394.4,255.8L386.8,255.8ZM394.4,263.4L402.4,263.4L402.4,255.8L394.4,255.8ZM402.4,263.4L410.1,263.4L410.1,255.8L402.4,255.8ZM386.8,271.4L394.4,271.4L394.4,263.4L386.8,263.4ZM394.4,271.4L402.4,271.4L402.4,263.4L394.4,263.4ZM402.4,271.4L410.1,271.4L410.1,263.4L402.4,263.4ZM378.9,279.0L378.9,271.4L366.3,271.4L366.1,279.0ZM386.8,279.0L394.4,279.0L394.4,271.4L386.8,271.4ZM402.4,279.0L410.0,279.0L410.1,271.4L402.4,271.4ZM378.9,286.6L378.9,279.0L366.1,279.0L365.8,286.6ZM386.8,286.6L394.4,286.6L394.4,279.0L386.8,279.0Z"/>
<path fill="#fed88c" d="M380.9,294.2L387.4,295.1L388.5,294.2L388.5,286.6L380.9,286.6ZM408.8,294.9L410.0,296.4L416.4,296.1L419.3,292.2L416.7,293.7L412.2,292.8L410.2,288.9ZM372.2,295.0L372.2,302.2L372.6,302.5L379.6,302.2L379.6,295.2L373.4,294.1ZM379.6,302.2L379.7,302.3L387.4,302.3L387.4,295.1L380.9,294.2L379.6,295.2ZM409.8,303.6L417.6,302.7L417.7,302.5L416.4,296.1L410.0,296.4L408.7,302.2ZM372.6,310.1L372.6,302.5L372.2,302.2L365.3,302.6L365.1,310.1ZM379.7,302.3L379.6,302.2L372.6,302.5L372.6,310.1L379.7,310.1ZM387.4,302.3L387.4,310.1L395.0,310.1L395.0,302.3ZM417.6,302.7L409.8,303.6L409.8,310.1L417.6,310.1ZM379.7,310.1L372.6,310.1L372.6,316.8L376.7,319.0L379.7,316.7ZM392.9,318.3L395.0,316.7L395.0,310.1L387.4,310.1L387.4,316.7ZM417.6,310.1L409.8,310.1L409.8,316.7L415.6,318.3L417.6,316.7ZM439.2,318.8L441.5,316.7L440.2,309.5L439.9,309.4L433.5,310.9L433.5,316.3ZM446.0,308.4L447.8,309.7L453.7,308.1L453.7,300.1L453.4,299.4L450.3,302.4L448.5,300.1L446.0,300.8ZM455.9,309.9L462.0,308.3L462.5,302.0L460.3,301.4L454.9,302.8L453.7,300.1L453.7,308.1ZM462.0,308.3L464.0,310.1L470.5,309.2L471.1,308.4L469.2,300.1L468.5,300.2L465.8,302.8L462.5,302.0ZM478.0,308.0L477.8,307.8L471.1,308.4L470.5,309.2L471.8,315.6L476.8,316.5ZM481.3,309.0L478.0,308.0L476.8,316.5L478.2,317.8L482.6,315.9ZM475.9,324.3L478.2,321.9L478.2,317.8L476.8,316.5L471.8,315.6L468.5,318.5L470.4,323.8ZM447.4,324.4L447.4,331.6L449.1,332.8L454.4,332.0L454.4,324.4ZM455.5,340.5L455.5,332.7L454.4,332.0L449.1,332.8L448.5,339.8L449.2,340.5ZM368.3,340.4L367.9,339.8L360.2,339.8L358.5,341.8L360.5,344.2L366.9,347.2L367.1,347.3ZM395.0,316.7L392.9,318.3L392.9,325.1L400.3,325.1L400.3,318.3ZM400.3,325.1L400.3,325.2L407.8,325.0L407.8,318.3L402.4,316.8L400.3,318.3ZM392.8,332.6L392.8,325.2L385.3,325.0L385.1,325.1L385.1,332.4L391.4,333.5ZM400.3,332.4L406.7,333.6L407.9,332.6L407.9,325.1L407.8,325.0L400.3,325.2ZM430.2,325.4L430.2,331.6L436.1,334.0L439.3,332.1L438.7,325.5L430.9,324.8ZM376.1,340.9L376.2,340.9L376.2,332.7L368.1,333.2L367.9,339.8L368.3,340.4ZM376.2,340.9L383.2,341.4L383.7,341.0L383.7,333.5L376.7,332.2L376.2,332.7ZM422.0,340.9L422.6,341.4L426.9,341.4L428.7,339.7L427.9,333.2L422.7,332.6L422.0,333.2ZM407.1,350.7L408.0,349.9L408.0,341.5L406.7,340.4L398.9,341.8L398.9,341.8L400.3,349.4ZM435.8,350.8L440.1,351.2L442.0,348.0L440.1,343.4L436.2,342.2L433.0,346.5ZM433.7,369.1L433.1,371.7L438.2,378.8L442.6,377.3L442.7,377.3L441.1,367.0ZM452.3,371.7L453.4,369.8L451.9,361.5L448.3,359.2L441.8,365.7L441.7,366.3ZM442.7,377.3L452.3,373.0L452.3,371.7L441.7,366.3L441.1,367.0ZM454.4,376.7L454.4,376.3L452.3,373.0L442.7,377.3L442.6,377.3L445.3,381.2L452.1,379.5ZM474.4,360.6L472.5,363.3L475.2,367.7L482.9,366.2L483.0,365.0L479.4,359.6ZM492.8,364.9L497.5,364.4L500.1,359.7L499.9,358.7L492.6,356.7L489.7,359.3ZM454.4,376.3L463.0,374.3L462.0,369.0L460.4,367.7L453.4,369.8L452.3,371.7L452.3,373.0ZM451.4,387.7L458.5,385.1L459.2,383.9L454.4,376.7L452.1,379.5L451.0,387.5ZM458.5,385.1L451.4,387.7L453.4,394.8L457.5,394.8L460.8,390.9ZM419.0,394.6L428.0,393.9L428.3,393.6L427.8,385.9L418.2,385.9L418.2,393.6ZM446.2,386.9L446.2,386.9L445.3,394.1L447.9,396.4L452.3,396.0L453.4,394.8L451.4,387.7L451.0,387.5ZM453.4,404.8L444.1,404.0L444.1,415.1L451.3,416.2L451.8,413.2L453.9,409.0L455.2,406.5ZM320.2,332.8L311.5,332.6L314.5,335.2L317.5,338.2L320.2,341.6ZM370.5,368.8L374.7,366.1L376.0,360.6L384.2,359.7L382.4,354.2L366.9,347.2L357.8,355.7ZM378.9,271.4L378.9,263.4L366.6,263.4L366.3,271.4ZM378.9,271.4L386.8,271.4L386.8,263.4L378.9,263.4ZM394.4,279.0L402.4,279.0L402.4,271.4L394.4,271.4ZM378.9,286.6L386.8,286.6L386.8,279.0L378.9,279.0ZM394.4,286.6L402.4,286.6L402.4,279.0L394.4,279.0ZM402.4,286.6L410.0,286.6L410.0,279.0L402.4,279.0Z"/>
<path fill="#fe9a1a" d="M396.0,294.2L402.2,295.0L403.1,294.4L403.1,286.6L396.0,286.6ZM403.1,294.4L408.8,294.9L410.2,288.9L410.0,288.5L410.0,286.6L403.1,286.6ZM402.2,295.0L402.2,302.3L402.4,302.5L408.7,302.2L410.0,296.4L408.8,294.9L403.1,294.4ZM416.4,296.1L417.7,302.5L425.0,302.2L425.0,295.7L421.3,294.6L419.4,292.1L419.3,292.2ZM432.3,297.6L431.3,298.2L425.8,296.0L425.0,295.7L425.0,302.2L425.1,302.3L432.3,302.3ZM387.4,302.3L379.7,302.3L379.7,310.1L387.4,310.1ZM447.8,316.3L454.8,317.0L455.7,316.1L455.9,309.9L453.7,308.1L447.8,309.7ZM463.3,317.6L463.6,317.4L464.0,310.1L462.0,308.3L455.9,309.9L455.7,316.1ZM468.5,318.5L471.8,315.6L470.5,309.2L464.0,310.1L463.6,317.4ZM488.5,318.9L488.5,318.3L485.0,316.1L482.6,315.9L478.2,317.8L478.2,321.9L482.7,323.7ZM462.3,326.1L461.2,332.2L462.5,333.5L469.1,333.5L469.9,332.7L468.6,326.1ZM462.5,333.5L461.2,332.2L455.5,332.7L455.5,340.5L456.5,341.4L461.7,341.0ZM500.1,341.2L498.1,348.0L499.9,348.9L506.3,348.4L505.5,345.2L503.5,341.2L502.9,340.1ZM379.7,316.7L376.7,319.0L376.7,325.1L385.1,325.1L385.3,325.0L385.3,318.4ZM415.6,318.3L409.8,316.7L407.8,318.3L407.8,325.0L407.9,325.1L415.4,325.1L415.6,325.0ZM400.3,325.1L392.9,325.1L392.8,325.2L392.8,332.6L398.2,334.0L400.3,332.4L400.3,325.2ZM407.9,325.1L407.9,332.6L414.7,333.3L415.4,332.7L415.4,325.1ZM433.1,371.7L427.8,376.4L427.7,378.1L437.3,379.8L438.2,378.8ZM436.4,358.9L441.8,365.7L448.3,359.2L448.3,359.0L440.7,353.9ZM455.7,360.8L460.1,355.8L452.1,350.8L451.7,350.9L448.3,359.0L448.3,359.2L451.9,361.5ZM453.4,369.8L460.4,367.7L460.4,364.7L455.7,360.8L451.9,361.5ZM460.4,364.7L465.3,359.8L464.9,358.0L461.3,355.6L460.1,355.8L455.7,360.8ZM481.0,355.3L483.4,354.7L486.2,349.6L485.2,347.7L478.1,347.7L475.9,349.5L476.1,351.0ZM489.7,359.3L492.6,356.7L492.6,350.8L486.2,349.6L483.4,354.7L489.6,359.3ZM479.4,359.6L483.0,365.0L489.6,359.3L483.4,354.7L481.0,355.3ZM485.4,370.6L491.4,368.4L492.8,364.9L489.7,359.3L489.6,359.3L483.0,365.0L482.9,366.2ZM495.3,348.0L492.6,350.8L492.6,356.7L499.9,358.7L499.9,348.9L498.1,348.0ZM500.1,359.7L497.5,364.4L499.2,367.8L503.7,369.3L504.5,365.2L504.9,363.3ZM499.9,358.7L500.1,359.7L504.9,363.3L505.5,360.2L506.3,355.5ZM467.0,367.1L462.0,369.0L463.0,374.3L465.3,376.2L467.6,376.2L470.8,372.7ZM495.3,371.7L491.4,368.4L485.4,370.6L485.0,373.0L492.7,376.8L493.5,376.2L495.9,375.0ZM454.4,376.7L459.2,383.9L461.6,382.9L465.3,376.2L463.0,374.3L454.4,376.3ZM485.4,382.3L485.5,382.2L489.5,379.2L492.7,376.8L485.0,373.0L483.1,375.4ZM474.5,382.9L472.0,382.5L467.5,385.9L467.0,392.0L468.2,393.6L471.9,391.2L475.5,390.2L478.3,387.9ZM461.6,382.9L459.2,383.9L458.5,385.1L460.8,390.9L467.0,392.0L467.5,385.9ZM453.4,404.8L455.2,406.5L456.7,403.7L460.7,399.5L460.9,399.3L457.5,394.8L453.4,394.8L452.3,396.0ZM427.4,378.6L428.0,385.6L436.2,384.8L437.3,379.8L427.7,378.1ZM452.1,379.5L445.3,381.2L446.2,386.9L451.0,387.5ZM445.3,394.1L446.2,386.9L438.5,388.2L437.0,393.3L440.9,395.2ZM443.8,403.7L447.9,396.4L445.3,394.1L440.9,395.2L443.2,403.5ZM378.9,279.0L386.8,279.0L386.8,271.4L378.9,271.4Z"/>
<path fill="#f86008" d="M471.1,308.4L477.8,307.8L478.8,299.5L478.5,299.4L475.8,301.1L472.2,299.4L469.2,300.1ZM477.8,307.8L478.0,308.0L481.3,309.0L486.6,307.9L487.0,307.6L487.8,303.9L486.7,303.7L483.1,301.1L478.8,299.5ZM487.0,307.6L490.6,310.6L497.0,309.9L497.0,306.2L491.3,304.6L487.8,303.9ZM485.0,316.1L486.6,307.9L481.3,309.0L482.6,315.9ZM488.5,318.3L489.7,317.4L490.6,310.6L487.0,307.6L486.6,307.9L485.0,316.1ZM490.6,310.6L489.7,317.4L497.0,316.6L497.0,309.9ZM454.8,317.0L447.8,316.3L447.4,316.7L447.4,324.4L454.4,324.4L454.8,324.0ZM461.2,324.6L462.3,326.1L468.6,326.1L470.4,323.8L468.5,318.5L463.6,317.4L463.3,317.6ZM497.0,323.9L497.0,316.6L489.7,317.4L488.5,318.3L488.5,318.9L491.4,324.9ZM454.4,324.4L454.4,332.0L455.5,332.7L461.2,332.2L462.3,326.1L461.2,324.6L454.8,324.0ZM482.7,323.7L478.2,321.9L475.9,324.3L477.3,332.1L477.6,332.3L483.7,331.9L484.8,328.4ZM488.5,318.9L482.7,323.7L484.8,328.4L491.3,325.2L491.4,324.9ZM484.8,328.4L483.7,331.9L486.3,334.7L490.3,335.0L493.0,332.0L491.3,325.2ZM491.4,324.9L491.3,325.2L493.0,332.0L497.0,331.6L497.0,323.9ZM462.8,341.8L469.8,340.5L469.1,333.5L462.5,333.5L461.7,341.0ZM469.1,333.5L469.8,340.5L471.1,341.6L477.0,339.2L477.6,332.3L477.3,332.1L469.9,332.7ZM484.1,340.9L486.3,334.7L483.7,331.9L477.6,332.3L477.0,339.2L479.7,341.3ZM490.3,335.0L486.3,334.7L484.1,340.9L486.0,343.6L492.5,342.9L493.4,339.3ZM493.0,332.0L490.3,335.0L493.4,339.3L496.4,338.7L499.5,334.2L497.0,332.2L497.0,331.6ZM448.5,339.8L443.4,339.8L440.1,343.4L442.0,348.0L448.4,348.0L449.2,340.5ZM448.4,348.0L451.7,350.9L452.1,350.8L455.2,347.9L456.5,341.4L455.5,340.5L449.2,340.5ZM463.4,348.2L467.6,349.0L471.9,346.7L471.1,341.6L469.8,340.5L462.8,341.8ZM486.0,343.6L484.1,340.9L479.7,341.3L478.1,347.7L485.2,347.7ZM486.2,349.6L492.6,350.8L495.3,348.0L492.5,342.9L486.0,343.6L485.2,347.7ZM496.4,338.7L500.1,341.2L502.9,340.1L501.5,337.2L499.5,334.2L499.5,334.2ZM455.2,347.9L452.1,350.8L460.1,355.8L461.3,355.6L462.7,348.9ZM461.3,355.6L464.9,358.0L468.5,355.2L467.6,349.0L463.4,348.2L462.7,348.9ZM462.0,369.0L467.0,367.1L468.8,363.3L465.3,359.8L460.4,364.7L460.4,367.7ZM475.9,349.5L471.9,346.7L467.6,349.0L468.5,355.2L472.4,355.2L476.1,351.0ZM468.5,355.2L464.9,358.0L465.3,359.8L468.8,363.3L472.5,363.3L474.4,360.6L472.4,355.2ZM499.9,348.9L499.9,358.7L506.3,355.5L506.5,354.2L506.5,349.2L506.3,348.4ZM483.1,375.4L485.0,373.0L485.4,370.6L482.9,366.2L475.2,367.7L473.9,371.8L478.6,376.0ZM474.5,382.9L478.6,376.0L473.9,371.8L470.8,372.7L467.6,376.2L472.0,382.5ZM478.3,387.9L480.5,386.2L485.4,382.3L483.1,375.4L478.6,376.0L474.5,382.9ZM472.0,382.5L467.6,376.2L465.3,376.2L461.6,382.9L467.5,385.9Z"/>
<path fill="#b03a08" d="M461.2,324.6L463.3,317.6L455.7,316.1L454.8,317.0L454.8,324.0ZM456.5,341.4L455.2,347.9L462.7,348.9L463.4,348.2L462.8,341.8L461.7,341.0ZM479.7,341.3L477.0,339.2L471.1,341.6L471.9,346.7L475.9,349.5L478.1,347.7ZM493.4,339.3L492.5,342.9L495.3,348.0L498.1,348.0L500.1,341.2L496.4,338.7ZM440.1,351.2L440.7,353.9L448.3,359.0L451.7,350.9L448.4,348.0L442.0,348.0ZM472.4,355.2L474.4,360.6L479.4,359.6L481.0,355.3L476.1,351.0ZM491.4,368.4L495.3,371.7L499.2,367.8L497.5,364.4L492.8,364.9ZM475.2,367.7L472.5,363.3L468.8,363.3L467.0,367.1L470.8,372.7L473.9,371.8ZM499.2,367.8L495.3,371.7L495.9,375.0L497.5,374.2L502.5,373.2L503.5,370.2L503.7,369.3ZM425.3,406.6L428.0,404.0L428.0,393.9L419.0,394.6L417.9,402.9Z"/>
</g>
<defs>
<clipPath id="f1"><rect x="11" y="0" width="265.5" height="205.5"/></clipPath>
<clipPath id="f2"><rect x="277" y="0" width="265.4" height="205.5"/></clipPath>
<clipPath id="f3"><rect x="11" y="246" width="265.5" height="203"/></clipPath>
<clipPath id="f4"><rect x="277" y="246" width="265.4" height="203"/></clipPath>
</defs>
<g fill="none" stroke-width="1.8">
<circle clip-path="url(#f1)" cx="99" cy="107" r="96" stroke="#0a0a0a"/>
<g clip-path="url(#f2)"><circle cx="316.5" cy="93.2" r="40" stroke="#b4b4b4" stroke-width="1.8"/>
<circle cx="428.5" cy="185.3" r="58.8" stroke="#b4b4b4" stroke-width="1.8"/>
<circle cx="335.3" cy="91.3" r="22" stroke="#0a0a0a"/>
<circle cx="419.5" cy="172" r="42.2" stroke="#0a0a0a"/>
<circle cx="383" cy="31.7" r="4.3" stroke="#0a0a0a"/>
<circle cx="486.5" cy="94.2" r="3.2" stroke="#0a0a0a" stroke-width="1.3"/>
<circle cx="468.1" cy="74.3" r="0.8" fill="#0a0a0a" stroke="none"/></g>
<circle clip-path="url(#f3)" cx="180.5" cy="369.4" r="33.2" stroke="#0a0a0a"/>
<ellipse cx="191.9" cy="319.5" rx="0.7" ry="1.15" transform="rotate(20 191.9 319.5)" fill="#0a0a0a" stroke="none"/>
<g clip-path="url(#f4)"><circle cx="413.9" cy="295.1" r="24.1" stroke="#0a0a0a"/>
<circle cx="504" cy="368.9" r="61.4" stroke="#0a0a0a"/></g>
</g>
<text x="18" y="20.7" font-size="16.3" text-anchor="start" fill="#fff" textLength="45" lengthAdjust="spacingAndGlyphs" stroke="#fff" stroke-width="3" stroke-linejoin="round">Indian</text><text x="18" y="20.7" font-size="16.3" text-anchor="start" fill="#111" textLength="45" lengthAdjust="spacingAndGlyphs" stroke="#111" stroke-width="0.18">Indian</text>
<text x="283.4" y="21" font-size="16.3" text-anchor="start" fill="#fff" textLength="61.6" lengthAdjust="spacingAndGlyphs" stroke="#fff" stroke-width="3" stroke-linejoin="round">Hispanic</text><text x="283.4" y="21" font-size="16.3" text-anchor="start" fill="#111" textLength="61.6" lengthAdjust="spacingAndGlyphs" stroke="#111" stroke-width="0.18">Hispanic</text>
<text x="17.6" y="267" font-size="16.3" text-anchor="start" fill="#fff" textLength="57.4" lengthAdjust="spacingAndGlyphs" stroke="#fff" stroke-width="3" stroke-linejoin="round">German</text><text x="17.6" y="267" font-size="16.3" text-anchor="start" fill="#111" textLength="57.4" lengthAdjust="spacingAndGlyphs" stroke="#111" stroke-width="0.18">German</text>
<text x="283.4" y="267" font-size="16.3" text-anchor="start" fill="#fff" textLength="38.8" lengthAdjust="spacingAndGlyphs" stroke="#fff" stroke-width="3" stroke-linejoin="round">Black</text><text x="283.4" y="267" font-size="16.3" text-anchor="start" fill="#111" textLength="38.8" lengthAdjust="spacingAndGlyphs" stroke="#111" stroke-width="0.18">Black</text>
<text x="17.6" y="32.3" font-size="7" text-anchor="start" fill="#fff" textLength="45.5" lengthAdjust="spacingAndGlyphs" stroke="#fff" stroke-width="3" stroke-linejoin="round">divided by total</text><text x="17.6" y="32.3" font-size="7" text-anchor="start" fill="#333" textLength="45.5" lengthAdjust="spacingAndGlyphs" stroke="#333" stroke-width="0.1">divided by total</text>
<text x="283.2" y="32.3" font-size="7" text-anchor="start" fill="#fff" textLength="45.5" lengthAdjust="spacingAndGlyphs" stroke="#fff" stroke-width="3" stroke-linejoin="round">divided by total</text><text x="283.2" y="32.3" font-size="7" text-anchor="start" fill="#333" textLength="45.5" lengthAdjust="spacingAndGlyphs" stroke="#333" stroke-width="0.1">divided by total</text>
<text x="17.6" y="278.5" font-size="7" text-anchor="start" fill="#fff" textLength="45.5" lengthAdjust="spacingAndGlyphs" stroke="#fff" stroke-width="3" stroke-linejoin="round">divided by total</text><text x="17.6" y="278.5" font-size="7" text-anchor="start" fill="#333" textLength="45.5" lengthAdjust="spacingAndGlyphs" stroke="#333" stroke-width="0.1">divided by total</text>
<text x="283.2" y="278.5" font-size="7" text-anchor="start" fill="#fff" textLength="45.5" lengthAdjust="spacingAndGlyphs" stroke="#fff" stroke-width="3" stroke-linejoin="round">divided by total</text><text x="283.2" y="278.5" font-size="7" text-anchor="start" fill="#333" textLength="45.5" lengthAdjust="spacingAndGlyphs" stroke="#333" stroke-width="0.1">divided by total</text>
<circle cx="171.1" cy="12.1" r="3.3" fill="#fff" stroke="#0a0a0a" stroke-width="1.4"/><text x="180.3" y="14.3" font-size="6.6" text-anchor="start" fill="#fff" textLength="84.3" lengthAdjust="spacingAndGlyphs" stroke="#fff" stroke-width="3" stroke-linejoin="round">Word cluster (indian+native)</text><text x="180.3" y="14.3" font-size="6.6" text-anchor="start" fill="#333" textLength="84.3" lengthAdjust="spacingAndGlyphs" stroke="#333" stroke-width="0.1">Word cluster (indian+native)</text>
<circle cx="452.9" cy="12" r="3.3" fill="#fff" stroke="#0a0a0a" stroke-width="1.4"/><text x="462.3" y="14.2" font-size="6.6" text-anchor="start" fill="#fff" textLength="67" lengthAdjust="spacingAndGlyphs" stroke="#fff" stroke-width="3" stroke-linejoin="round">Word cluster (spanish)</text><text x="462.3" y="14.2" font-size="6.6" text-anchor="start" fill="#333" textLength="67" lengthAdjust="spacingAndGlyphs" stroke="#333" stroke-width="0.1">Word cluster (spanish)</text>
<circle cx="452.9" cy="22.7" r="3.3" fill="#fff" stroke="#b4b4b4" stroke-width="1.4"/><text x="462.3" y="24.9" font-size="6.6" text-anchor="start" fill="#fff" textLength="68.5" lengthAdjust="spacingAndGlyphs" stroke="#fff" stroke-width="3" stroke-linejoin="round">Word cluster (mexican)</text><text x="462.3" y="24.9" font-size="6.6" text-anchor="start" fill="#333" textLength="68.5" lengthAdjust="spacingAndGlyphs" stroke="#333" stroke-width="0.1">Word cluster (mexican)</text>
<circle cx="189" cy="258.6" r="3.3" fill="#fff" stroke="#0a0a0a" stroke-width="1.4"/><text x="198.2" y="260.6" font-size="6.6" text-anchor="start" fill="#fff" textLength="66.4" lengthAdjust="spacingAndGlyphs" stroke="#fff" stroke-width="3" stroke-linejoin="round">Word cluster (german)</text><text x="198.2" y="260.6" font-size="6.6" text-anchor="start" fill="#333" textLength="66.4" lengthAdjust="spacingAndGlyphs" stroke="#333" stroke-width="0.1">Word cluster (german)</text>
<circle cx="454.6" cy="258.6" r="3.3" fill="#fff" stroke="#0a0a0a" stroke-width="1.4"/><text x="464.4" y="260.6" font-size="6.6" text-anchor="start" fill="#fff" textLength="66.6" lengthAdjust="spacingAndGlyphs" stroke="#fff" stroke-width="3" stroke-linejoin="round">Word cluster (african+</text><text x="464.4" y="260.6" font-size="6.6" text-anchor="start" fill="#333" textLength="66.6" lengthAdjust="spacingAndGlyphs" stroke="#333" stroke-width="0.1">Word cluster (african+</text>
<text x="491.6" y="269" font-size="6.6" text-anchor="start" fill="#fff" textLength="39.4" lengthAdjust="spacingAndGlyphs" stroke="#fff" stroke-width="3" stroke-linejoin="round">black+negro)</text><text x="491.6" y="269" font-size="6.6" text-anchor="start" fill="#333" textLength="39.4" lengthAdjust="spacingAndGlyphs" stroke="#333" stroke-width="0.1">black+negro)</text>
<rect x="14.5" y="146.4" width="66" height="51.5" fill="#fff"/>
<rect x="18" y="149.90" width="8.4" height="7" fill="#ffffcc" stroke="#d8d0b0" stroke-width="0.4"/>
<text x="49.5" y="155.5" font-size="6.9" text-anchor="end" fill="#fff" textLength="17.9" lengthAdjust="spacingAndGlyphs" stroke="#fff" stroke-width="3" stroke-linejoin="round">0.0 %</text><text x="49.5" y="155.5" font-size="6.9" text-anchor="end" fill="#333" textLength="17.9" lengthAdjust="spacingAndGlyphs" stroke="#333" stroke-width="0.1">0.0 %</text>
<text x="52.8" y="155.5" font-size="6.9" text-anchor="middle" fill="#fff" stroke="#fff" stroke-width="3" stroke-linejoin="round">-</text><text x="52.8" y="155.5" font-size="6.9" text-anchor="middle" fill="#333" stroke="#333" stroke-width="0.1">-</text>
<text x="74" y="155.5" font-size="6.9" text-anchor="end" fill="#fff" textLength="17.9" lengthAdjust="spacingAndGlyphs" stroke="#fff" stroke-width="3" stroke-linejoin="round">0.5 %</text><text x="74" y="155.5" font-size="6.9" text-anchor="end" fill="#333" textLength="17.9" lengthAdjust="spacingAndGlyphs" stroke="#333" stroke-width="0.1">0.5 %</text>
<rect x="18" y="159.30" width="8.4" height="7" fill="#fed88c" stroke="#d8d0b0" stroke-width="0.4"/>
<text x="49.5" y="164.9" font-size="6.9" text-anchor="end" fill="#fff" textLength="17.9" lengthAdjust="spacingAndGlyphs" stroke="#fff" stroke-width="3" stroke-linejoin="round">0.6 %</text><text x="49.5" y="164.9" font-size="6.9" text-anchor="end" fill="#333" textLength="17.9" lengthAdjust="spacingAndGlyphs" stroke="#333" stroke-width="0.1">0.6 %</text>
<text x="52.8" y="164.9" font-size="6.9" text-anchor="middle" fill="#fff" stroke="#fff" stroke-width="3" stroke-linejoin="round">-</text><text x="52.8" y="164.9" font-size="6.9" text-anchor="middle" fill="#333" stroke="#333" stroke-width="0.1">-</text>
<text x="74" y="164.9" font-size="6.9" text-anchor="end" fill="#fff" textLength="17.9" lengthAdjust="spacingAndGlyphs" stroke="#fff" stroke-width="3" stroke-linejoin="round">0.7 %</text><text x="74" y="164.9" font-size="6.9" text-anchor="end" fill="#333" textLength="17.9" lengthAdjust="spacingAndGlyphs" stroke="#333" stroke-width="0.1">0.7 %</text>
<rect x="18" y="168.70" width="8.4" height="7" fill="#fe9a1a" stroke="#d8d0b0" stroke-width="0.4"/>
<text x="49.5" y="174.3" font-size="6.9" text-anchor="end" fill="#fff" textLength="17.9" lengthAdjust="spacingAndGlyphs" stroke="#fff" stroke-width="3" stroke-linejoin="round">0.8 %</text><text x="49.5" y="174.3" font-size="6.9" text-anchor="end" fill="#333" textLength="17.9" lengthAdjust="spacingAndGlyphs" stroke="#333" stroke-width="0.1">0.8 %</text>
<text x="52.8" y="174.3" font-size="6.9" text-anchor="middle" fill="#fff" stroke="#fff" stroke-width="3" stroke-linejoin="round">-</text><text x="52.8" y="174.3" font-size="6.9" text-anchor="middle" fill="#333" stroke="#333" stroke-width="0.1">-</text>
<text x="74" y="174.3" font-size="6.9" text-anchor="end" fill="#fff" textLength="17.9" lengthAdjust="spacingAndGlyphs" stroke="#fff" stroke-width="3" stroke-linejoin="round">1.0 %</text><text x="74" y="174.3" font-size="6.9" text-anchor="end" fill="#333" textLength="17.9" lengthAdjust="spacingAndGlyphs" stroke="#333" stroke-width="0.1">1.0 %</text>
<rect x="18" y="178.10" width="8.4" height="7" fill="#f86008" stroke="#d8d0b0" stroke-width="0.4"/>
<text x="49.5" y="183.7" font-size="6.9" text-anchor="end" fill="#fff" textLength="17.9" lengthAdjust="spacingAndGlyphs" stroke="#fff" stroke-width="3" stroke-linejoin="round">1.1 %</text><text x="49.5" y="183.7" font-size="6.9" text-anchor="end" fill="#333" textLength="17.9" lengthAdjust="spacingAndGlyphs" stroke="#333" stroke-width="0.1">1.1 %</text>
<text x="52.8" y="183.7" font-size="6.9" text-anchor="middle" fill="#fff" stroke="#fff" stroke-width="3" stroke-linejoin="round">-</text><text x="52.8" y="183.7" font-size="6.9" text-anchor="middle" fill="#333" stroke="#333" stroke-width="0.1">-</text>
<text x="74" y="183.7" font-size="6.9" text-anchor="end" fill="#fff" textLength="17.9" lengthAdjust="spacingAndGlyphs" stroke="#fff" stroke-width="3" stroke-linejoin="round">1.6 %</text><text x="74" y="183.7" font-size="6.9" text-anchor="end" fill="#333" textLength="17.9" lengthAdjust="spacingAndGlyphs" stroke="#333" stroke-width="0.1">1.6 %</text>
<rect x="18" y="187.50" width="8.4" height="7" fill="#b03a08" stroke="#d8d0b0" stroke-width="0.4"/>
<text x="49.5" y="193.1" font-size="6.9" text-anchor="end" fill="#fff" textLength="17.9" lengthAdjust="spacingAndGlyphs" stroke="#fff" stroke-width="3" stroke-linejoin="round">1.7 %</text><text x="49.5" y="193.1" font-size="6.9" text-anchor="end" fill="#333" textLength="17.9" lengthAdjust="spacingAndGlyphs" stroke="#333" stroke-width="0.1">1.7 %</text>
<text x="52.8" y="193.1" font-size="6.9" text-anchor="middle" fill="#fff" stroke="#fff" stroke-width="3" stroke-linejoin="round">-</text><text x="52.8" y="193.1" font-size="6.9" text-anchor="middle" fill="#333" stroke="#333" stroke-width="0.1">-</text>
<text x="74" y="193.1" font-size="6.9" text-anchor="end" fill="#fff" textLength="17.9" lengthAdjust="spacingAndGlyphs" stroke="#fff" stroke-width="3" stroke-linejoin="round">3.5 %</text><text x="74" y="193.1" font-size="6.9" text-anchor="end" fill="#333" textLength="17.9" lengthAdjust="spacingAndGlyphs" stroke="#333" stroke-width="0.1">3.5 %</text>
<rect x="280.2" y="146.4" width="66" height="51.5" fill="#fff"/>
<rect x="283.7" y="149.90" width="8.4" height="7" fill="#ffffcc" stroke="#d8d0b0" stroke-width="0.4"/>
<text x="318.7" y="155.5" font-size="6.9" text-anchor="end" fill="#fff" textLength="17.9" lengthAdjust="spacingAndGlyphs" stroke="#fff" stroke-width="3" stroke-linejoin="round">1.6 %</text><text x="318.7" y="155.5" font-size="6.9" text-anchor="end" fill="#333" textLength="17.9" lengthAdjust="spacingAndGlyphs" stroke="#333" stroke-width="0.1">1.6 %</text>
<text x="322.0" y="155.5" font-size="6.9" text-anchor="middle" fill="#fff" stroke="#fff" stroke-width="3" stroke-linejoin="round">-</text><text x="322.0" y="155.5" font-size="6.9" text-anchor="middle" fill="#333" stroke="#333" stroke-width="0.1">-</text>
<text x="346.8" y="155.5" font-size="6.9" text-anchor="end" fill="#fff" textLength="21.5" lengthAdjust="spacingAndGlyphs" stroke="#fff" stroke-width="3" stroke-linejoin="round">16.6 %</text><text x="346.8" y="155.5" font-size="6.9" text-anchor="end" fill="#333" textLength="21.5" lengthAdjust="spacingAndGlyphs" stroke="#333" stroke-width="0.1">16.6 %</text>
<rect x="283.7" y="159.30" width="8.4" height="7" fill="#fed88c" stroke="#d8d0b0" stroke-width="0.4"/>
<text x="318.7" y="164.9" font-size="6.9" text-anchor="end" fill="#fff" textLength="21.5" lengthAdjust="spacingAndGlyphs" stroke="#fff" stroke-width="3" stroke-linejoin="round">16.7 %</text><text x="318.7" y="164.9" font-size="6.9" text-anchor="end" fill="#333" textLength="21.5" lengthAdjust="spacingAndGlyphs" stroke="#333" stroke-width="0.1">16.7 %</text>
<text x="322.0" y="164.9" font-size="6.9" text-anchor="middle" fill="#fff" stroke="#fff" stroke-width="3" stroke-linejoin="round">-</text><text x="322.0" y="164.9" font-size="6.9" text-anchor="middle" fill="#333" stroke="#333" stroke-width="0.1">-</text>
<text x="346.8" y="164.9" font-size="6.9" text-anchor="end" fill="#fff" textLength="21.5" lengthAdjust="spacingAndGlyphs" stroke="#fff" stroke-width="3" stroke-linejoin="round">29.4 %</text><text x="346.8" y="164.9" font-size="6.9" text-anchor="end" fill="#333" textLength="21.5" lengthAdjust="spacingAndGlyphs" stroke="#333" stroke-width="0.1">29.4 %</text>
<rect x="283.7" y="168.70" width="8.4" height="7" fill="#fe9a1a" stroke="#d8d0b0" stroke-width="0.4"/>
<text x="318.7" y="174.3" font-size="6.9" text-anchor="end" fill="#fff" textLength="21.5" lengthAdjust="spacingAndGlyphs" stroke="#fff" stroke-width="3" stroke-linejoin="round">29.5 %</text><text x="318.7" y="174.3" font-size="6.9" text-anchor="end" fill="#333" textLength="21.5" lengthAdjust="spacingAndGlyphs" stroke="#333" stroke-width="0.1">29.5 %</text>
<text x="322.0" y="174.3" font-size="6.9" text-anchor="middle" fill="#fff" stroke="#fff" stroke-width="3" stroke-linejoin="round">-</text><text x="322.0" y="174.3" font-size="6.9" text-anchor="middle" fill="#333" stroke="#333" stroke-width="0.1">-</text>
<text x="346.8" y="174.3" font-size="6.9" text-anchor="end" fill="#fff" textLength="21.5" lengthAdjust="spacingAndGlyphs" stroke="#fff" stroke-width="3" stroke-linejoin="round">46.4 %</text><text x="346.8" y="174.3" font-size="6.9" text-anchor="end" fill="#333" textLength="21.5" lengthAdjust="spacingAndGlyphs" stroke="#333" stroke-width="0.1">46.4 %</text>
<rect x="283.7" y="178.10" width="8.4" height="7" fill="#f86008" stroke="#d8d0b0" stroke-width="0.4"/>
<text x="318.7" y="183.7" font-size="6.9" text-anchor="end" fill="#fff" textLength="21.5" lengthAdjust="spacingAndGlyphs" stroke="#fff" stroke-width="3" stroke-linejoin="round">46.5 %</text><text x="318.7" y="183.7" font-size="6.9" text-anchor="end" fill="#333" textLength="21.5" lengthAdjust="spacingAndGlyphs" stroke="#333" stroke-width="0.1">46.5 %</text>
<text x="322.0" y="183.7" font-size="6.9" text-anchor="middle" fill="#fff" stroke="#fff" stroke-width="3" stroke-linejoin="round">-</text><text x="322.0" y="183.7" font-size="6.9" text-anchor="middle" fill="#333" stroke="#333" stroke-width="0.1">-</text>
<text x="346.8" y="183.7" font-size="6.9" text-anchor="end" fill="#fff" textLength="21.5" lengthAdjust="spacingAndGlyphs" stroke="#fff" stroke-width="3" stroke-linejoin="round">67.6 %</text><text x="346.8" y="183.7" font-size="6.9" text-anchor="end" fill="#333" textLength="21.5" lengthAdjust="spacingAndGlyphs" stroke="#333" stroke-width="0.1">67.6 %</text>
<rect x="283.7" y="187.50" width="8.4" height="7" fill="#b03a08" stroke="#d8d0b0" stroke-width="0.4"/>
<text x="318.7" y="193.1" font-size="6.9" text-anchor="end" fill="#fff" textLength="21.5" lengthAdjust="spacingAndGlyphs" stroke="#fff" stroke-width="3" stroke-linejoin="round">67.7 %</text><text x="318.7" y="193.1" font-size="6.9" text-anchor="end" fill="#333" textLength="21.5" lengthAdjust="spacingAndGlyphs" stroke="#333" stroke-width="0.1">67.7 %</text>
<text x="322.0" y="193.1" font-size="6.9" text-anchor="middle" fill="#fff" stroke="#fff" stroke-width="3" stroke-linejoin="round">-</text><text x="322.0" y="193.1" font-size="6.9" text-anchor="middle" fill="#333" stroke="#333" stroke-width="0.1">-</text>
<text x="346.8" y="193.1" font-size="6.9" text-anchor="end" fill="#fff" textLength="21.5" lengthAdjust="spacingAndGlyphs" stroke="#fff" stroke-width="3" stroke-linejoin="round">97.7 %</text><text x="346.8" y="193.1" font-size="6.9" text-anchor="end" fill="#333" textLength="21.5" lengthAdjust="spacingAndGlyphs" stroke="#333" stroke-width="0.1">97.7 %</text>
<rect x="14.7" y="392.5" width="66" height="51.5" fill="#fff"/>
<rect x="18.2" y="396.00" width="8.4" height="7" fill="#ffffcc" stroke="#d8d0b0" stroke-width="0.4"/>
<text x="52.9" y="401.6" font-size="6.9" text-anchor="end" fill="#fff" textLength="17.9" lengthAdjust="spacingAndGlyphs" stroke="#fff" stroke-width="3" stroke-linejoin="round">0.0 %</text><text x="52.9" y="401.6" font-size="6.9" text-anchor="end" fill="#333" textLength="17.9" lengthAdjust="spacingAndGlyphs" stroke="#333" stroke-width="0.1">0.0 %</text>
<text x="56.2" y="401.6" font-size="6.9" text-anchor="middle" fill="#fff" stroke="#fff" stroke-width="3" stroke-linejoin="round">-</text><text x="56.2" y="401.6" font-size="6.9" text-anchor="middle" fill="#333" stroke="#333" stroke-width="0.1">-</text>
<text x="81" y="401.6" font-size="6.9" text-anchor="end" fill="#fff" textLength="17.9" lengthAdjust="spacingAndGlyphs" stroke="#fff" stroke-width="3" stroke-linejoin="round">3.4 %</text><text x="81" y="401.6" font-size="6.9" text-anchor="end" fill="#333" textLength="17.9" lengthAdjust="spacingAndGlyphs" stroke="#333" stroke-width="0.1">3.4 %</text>
<rect x="18.2" y="405.53" width="8.4" height="7" fill="#fed88c" stroke="#d8d0b0" stroke-width="0.4"/>
<text x="52.9" y="411.1" font-size="6.9" text-anchor="end" fill="#fff" textLength="17.9" lengthAdjust="spacingAndGlyphs" stroke="#fff" stroke-width="3" stroke-linejoin="round">3.5 %</text><text x="52.9" y="411.1" font-size="6.9" text-anchor="end" fill="#333" textLength="17.9" lengthAdjust="spacingAndGlyphs" stroke="#333" stroke-width="0.1">3.5 %</text>
<text x="56.2" y="411.1" font-size="6.9" text-anchor="middle" fill="#fff" stroke="#fff" stroke-width="3" stroke-linejoin="round">-</text><text x="56.2" y="411.1" font-size="6.9" text-anchor="middle" fill="#333" stroke="#333" stroke-width="0.1">-</text>
<text x="81" y="411.1" font-size="6.9" text-anchor="end" fill="#fff" textLength="21.5" lengthAdjust="spacingAndGlyphs" stroke="#fff" stroke-width="3" stroke-linejoin="round">10.2 %</text><text x="81" y="411.1" font-size="6.9" text-anchor="end" fill="#333" textLength="21.5" lengthAdjust="spacingAndGlyphs" stroke="#333" stroke-width="0.1">10.2 %</text>
<rect x="18.2" y="415.06" width="8.4" height="7" fill="#fe9a1a" stroke="#d8d0b0" stroke-width="0.4"/>
<text x="52.9" y="420.7" font-size="6.9" text-anchor="end" fill="#fff" textLength="21.5" lengthAdjust="spacingAndGlyphs" stroke="#fff" stroke-width="3" stroke-linejoin="round">10.3 %</text><text x="52.9" y="420.7" font-size="6.9" text-anchor="end" fill="#333" textLength="21.5" lengthAdjust="spacingAndGlyphs" stroke="#333" stroke-width="0.1">10.3 %</text>
<text x="56.2" y="420.7" font-size="6.9" text-anchor="middle" fill="#fff" stroke="#fff" stroke-width="3" stroke-linejoin="round">-</text><text x="56.2" y="420.7" font-size="6.9" text-anchor="middle" fill="#333" stroke="#333" stroke-width="0.1">-</text>
<text x="81" y="420.7" font-size="6.9" text-anchor="end" fill="#fff" textLength="21.5" lengthAdjust="spacingAndGlyphs" stroke="#fff" stroke-width="3" stroke-linejoin="round">15.0 %</text><text x="81" y="420.7" font-size="6.9" text-anchor="end" fill="#333" textLength="21.5" lengthAdjust="spacingAndGlyphs" stroke="#333" stroke-width="0.1">15.0 %</text>
<rect x="18.2" y="424.59" width="8.4" height="7" fill="#f86008" stroke="#d8d0b0" stroke-width="0.4"/>
<text x="52.9" y="430.2" font-size="6.9" text-anchor="end" fill="#fff" textLength="21.5" lengthAdjust="spacingAndGlyphs" stroke="#fff" stroke-width="3" stroke-linejoin="round">15.1 %</text><text x="52.9" y="430.2" font-size="6.9" text-anchor="end" fill="#333" textLength="21.5" lengthAdjust="spacingAndGlyphs" stroke="#333" stroke-width="0.1">15.1 %</text>
<text x="56.2" y="430.2" font-size="6.9" text-anchor="middle" fill="#fff" stroke="#fff" stroke-width="3" stroke-linejoin="round">-</text><text x="56.2" y="430.2" font-size="6.9" text-anchor="middle" fill="#333" stroke="#333" stroke-width="0.1">-</text>
<text x="81" y="430.2" font-size="6.9" text-anchor="end" fill="#fff" textLength="21.5" lengthAdjust="spacingAndGlyphs" stroke="#fff" stroke-width="3" stroke-linejoin="round">22.2 %</text><text x="81" y="430.2" font-size="6.9" text-anchor="end" fill="#333" textLength="21.5" lengthAdjust="spacingAndGlyphs" stroke="#333" stroke-width="0.1">22.2 %</text>
<rect x="18.2" y="434.12" width="8.4" height="7" fill="#b03a08" stroke="#d8d0b0" stroke-width="0.4"/>
<text x="52.9" y="439.7" font-size="6.9" text-anchor="end" fill="#fff" textLength="21.5" lengthAdjust="spacingAndGlyphs" stroke="#fff" stroke-width="3" stroke-linejoin="round">22.3 %</text><text x="52.9" y="439.7" font-size="6.9" text-anchor="end" fill="#333" textLength="21.5" lengthAdjust="spacingAndGlyphs" stroke="#333" stroke-width="0.1">22.3 %</text>
<text x="56.2" y="439.7" font-size="6.9" text-anchor="middle" fill="#fff" stroke="#fff" stroke-width="3" stroke-linejoin="round">-</text><text x="56.2" y="439.7" font-size="6.9" text-anchor="middle" fill="#333" stroke="#333" stroke-width="0.1">-</text>
<text x="81" y="439.7" font-size="6.9" text-anchor="end" fill="#fff" textLength="21.5" lengthAdjust="spacingAndGlyphs" stroke="#fff" stroke-width="3" stroke-linejoin="round">35.6 %</text><text x="81" y="439.7" font-size="6.9" text-anchor="end" fill="#333" textLength="21.5" lengthAdjust="spacingAndGlyphs" stroke="#333" stroke-width="0.1">35.6 %</text>
<rect x="280.2" y="392.5" width="66" height="51.5" fill="#fff"/>
<rect x="283.7" y="396.00" width="8.4" height="7" fill="#ffffcc" stroke="#d8d0b0" stroke-width="0.4"/>
<text x="319.2" y="401.6" font-size="6.9" text-anchor="end" fill="#fff" textLength="17.9" lengthAdjust="spacingAndGlyphs" stroke="#fff" stroke-width="3" stroke-linejoin="round">0.0 %</text><text x="319.2" y="401.6" font-size="6.9" text-anchor="end" fill="#333" textLength="17.9" lengthAdjust="spacingAndGlyphs" stroke="#333" stroke-width="0.1">0.0 %</text>
<text x="322.5" y="401.6" font-size="6.9" text-anchor="middle" fill="#fff" stroke="#fff" stroke-width="3" stroke-linejoin="round">-</text><text x="322.5" y="401.6" font-size="6.9" text-anchor="middle" fill="#333" stroke="#333" stroke-width="0.1">-</text>
<text x="347.3" y="401.6" font-size="6.9" text-anchor="end" fill="#fff" textLength="17.9" lengthAdjust="spacingAndGlyphs" stroke="#fff" stroke-width="3" stroke-linejoin="round">2.7 %</text><text x="347.3" y="401.6" font-size="6.9" text-anchor="end" fill="#333" textLength="17.9" lengthAdjust="spacingAndGlyphs" stroke="#333" stroke-width="0.1">2.7 %</text>
<rect x="283.7" y="405.53" width="8.4" height="7" fill="#fed88c" stroke="#d8d0b0" stroke-width="0.4"/>
<text x="319.2" y="411.1" font-size="6.9" text-anchor="end" fill="#fff" textLength="17.9" lengthAdjust="spacingAndGlyphs" stroke="#fff" stroke-width="3" stroke-linejoin="round">2.8 %</text><text x="319.2" y="411.1" font-size="6.9" text-anchor="end" fill="#333" textLength="17.9" lengthAdjust="spacingAndGlyphs" stroke="#333" stroke-width="0.1">2.8 %</text>
<text x="322.5" y="411.1" font-size="6.9" text-anchor="middle" fill="#fff" stroke="#fff" stroke-width="3" stroke-linejoin="round">-</text><text x="322.5" y="411.1" font-size="6.9" text-anchor="middle" fill="#333" stroke="#333" stroke-width="0.1">-</text>
<text x="347.3" y="411.1" font-size="6.9" text-anchor="end" fill="#fff" textLength="17.9" lengthAdjust="spacingAndGlyphs" stroke="#fff" stroke-width="3" stroke-linejoin="round">6.5 %</text><text x="347.3" y="411.1" font-size="6.9" text-anchor="end" fill="#333" textLength="17.9" lengthAdjust="spacingAndGlyphs" stroke="#333" stroke-width="0.1">6.5 %</text>
<rect x="283.7" y="415.06" width="8.4" height="7" fill="#fe9a1a" stroke="#d8d0b0" stroke-width="0.4"/>
<text x="319.2" y="420.7" font-size="6.9" text-anchor="end" fill="#fff" textLength="17.9" lengthAdjust="spacingAndGlyphs" stroke="#fff" stroke-width="3" stroke-linejoin="round">6.6 %</text><text x="319.2" y="420.7" font-size="6.9" text-anchor="end" fill="#333" textLength="17.9" lengthAdjust="spacingAndGlyphs" stroke="#333" stroke-width="0.1">6.6 %</text>
<text x="322.5" y="420.7" font-size="6.9" text-anchor="middle" fill="#fff" stroke="#fff" stroke-width="3" stroke-linejoin="round">-</text><text x="322.5" y="420.7" font-size="6.9" text-anchor="middle" fill="#333" stroke="#333" stroke-width="0.1">-</text>
<text x="347.3" y="420.7" font-size="6.9" text-anchor="end" fill="#fff" textLength="21.5" lengthAdjust="spacingAndGlyphs" stroke="#fff" stroke-width="3" stroke-linejoin="round">12.2 %</text><text x="347.3" y="420.7" font-size="6.9" text-anchor="end" fill="#333" textLength="21.5" lengthAdjust="spacingAndGlyphs" stroke="#333" stroke-width="0.1">12.2 %</text>
<rect x="283.7" y="424.59" width="8.4" height="7" fill="#f86008" stroke="#d8d0b0" stroke-width="0.4"/>
<text x="319.2" y="430.2" font-size="6.9" text-anchor="end" fill="#fff" textLength="21.5" lengthAdjust="spacingAndGlyphs" stroke="#fff" stroke-width="3" stroke-linejoin="round">12.3 %</text><text x="319.2" y="430.2" font-size="6.9" text-anchor="end" fill="#333" textLength="21.5" lengthAdjust="spacingAndGlyphs" stroke="#333" stroke-width="0.1">12.3 %</text>
<text x="322.5" y="430.2" font-size="6.9" text-anchor="middle" fill="#fff" stroke="#fff" stroke-width="3" stroke-linejoin="round">-</text><text x="322.5" y="430.2" font-size="6.9" text-anchor="middle" fill="#333" stroke="#333" stroke-width="0.1">-</text>
<text x="347.3" y="430.2" font-size="6.9" text-anchor="end" fill="#fff" textLength="21.5" lengthAdjust="spacingAndGlyphs" stroke="#fff" stroke-width="3" stroke-linejoin="round">20.8 %</text><text x="347.3" y="430.2" font-size="6.9" text-anchor="end" fill="#333" textLength="21.5" lengthAdjust="spacingAndGlyphs" stroke="#333" stroke-width="0.1">20.8 %</text>
<rect x="283.7" y="434.12" width="8.4" height="7" fill="#b03a08" stroke="#d8d0b0" stroke-width="0.4"/>
<text x="319.2" y="439.7" font-size="6.9" text-anchor="end" fill="#fff" textLength="21.5" lengthAdjust="spacingAndGlyphs" stroke="#fff" stroke-width="3" stroke-linejoin="round">20.9 %</text><text x="319.2" y="439.7" font-size="6.9" text-anchor="end" fill="#333" textLength="21.5" lengthAdjust="spacingAndGlyphs" stroke="#333" stroke-width="0.1">20.9 %</text>
<text x="322.5" y="439.7" font-size="6.9" text-anchor="middle" fill="#fff" stroke="#fff" stroke-width="3" stroke-linejoin="round">-</text><text x="322.5" y="439.7" font-size="6.9" text-anchor="middle" fill="#333" stroke="#333" stroke-width="0.1">-</text>
<text x="347.3" y="439.7" font-size="6.9" text-anchor="end" fill="#fff" textLength="21.5" lengthAdjust="spacingAndGlyphs" stroke="#fff" stroke-width="3" stroke-linejoin="round">47.9 %</text><text x="347.3" y="439.7" font-size="6.9" text-anchor="end" fill="#333" textLength="21.5" lengthAdjust="spacingAndGlyphs" stroke="#333" stroke-width="0.1">47.9 %</text>
<rect x="204" y="174.0" width="63" height="24.5" fill="#fff"/>
<rect x="210" y="185.35" width="50.8" height="2.3" fill="#000"/>
<rect x="222.9" y="185.95" width="12.3" height="1.1" fill="#fff"/>
<text x="208.3" y="182.9" font-size="6.9" text-anchor="start" fill="#222" textLength="3.4" lengthAdjust="spacingAndGlyphs" stroke="#222" stroke-width="0.1">0</text>
<text x="230.6" y="182.9" font-size="6.9" text-anchor="start" fill="#222" textLength="9.9" lengthAdjust="spacingAndGlyphs" stroke="#222" stroke-width="0.1">100</text>
<text x="255.9" y="182.9" font-size="6.9" text-anchor="start" fill="#222" textLength="9.9" lengthAdjust="spacingAndGlyphs" stroke="#222" stroke-width="0.1">200</text>
<text x="228.3" y="195.7" font-size="6.9" text-anchor="start" fill="#222" textLength="14.3" lengthAdjust="spacingAndGlyphs" stroke="#222" stroke-width="0.1">Miles</text>
<rect x="469.6" y="173.9" width="63" height="24.5" fill="#fff"/>
<rect x="475.6" y="185.25" width="50.8" height="2.3" fill="#000"/>
<rect x="488.5" y="185.85" width="12.3" height="1.1" fill="#fff"/>
<text x="473.9" y="182.8" font-size="6.9" text-anchor="start" fill="#222" textLength="3.4" lengthAdjust="spacingAndGlyphs" stroke="#222" stroke-width="0.1">0</text>
<text x="496.2" y="182.8" font-size="6.9" text-anchor="start" fill="#222" textLength="9.9" lengthAdjust="spacingAndGlyphs" stroke="#222" stroke-width="0.1">100</text>
<text x="521.4" y="182.8" font-size="6.9" text-anchor="start" fill="#222" textLength="9.9" lengthAdjust="spacingAndGlyphs" stroke="#222" stroke-width="0.1">200</text>
<text x="494.0" y="195.6" font-size="6.9" text-anchor="start" fill="#222" textLength="14.3" lengthAdjust="spacingAndGlyphs" stroke="#222" stroke-width="0.1">Miles</text>
<rect x="204" y="420.6" width="63" height="24.5" fill="#fff"/>
<rect x="210" y="431.95000000000005" width="50.8" height="2.3" fill="#000"/>
<rect x="222.9" y="432.55" width="12.3" height="1.1" fill="#fff"/>
<text x="208.3" y="429.5" font-size="6.9" text-anchor="start" fill="#222" textLength="3.4" lengthAdjust="spacingAndGlyphs" stroke="#222" stroke-width="0.1">0</text>
<text x="230.6" y="429.5" font-size="6.9" text-anchor="start" fill="#222" textLength="9.9" lengthAdjust="spacingAndGlyphs" stroke="#222" stroke-width="0.1">100</text>
<text x="255.9" y="429.5" font-size="6.9" text-anchor="start" fill="#222" textLength="9.9" lengthAdjust="spacingAndGlyphs" stroke="#222" stroke-width="0.1">200</text>
<text x="228.3" y="442.3" font-size="6.9" text-anchor="start" fill="#222" textLength="14.3" lengthAdjust="spacingAndGlyphs" stroke="#222" stroke-width="0.1">Miles</text>
<rect x="469.6" y="420.6" width="63" height="24.5" fill="#fff"/>
<rect x="475.6" y="431.95000000000005" width="50.8" height="2.3" fill="#000"/>
<rect x="488.5" y="432.55" width="12.3" height="1.1" fill="#fff"/>
<text x="473.9" y="429.5" font-size="6.9" text-anchor="start" fill="#222" textLength="3.4" lengthAdjust="spacingAndGlyphs" stroke="#222" stroke-width="0.1">0</text>
<text x="496.2" y="429.5" font-size="6.9" text-anchor="start" fill="#222" textLength="9.9" lengthAdjust="spacingAndGlyphs" stroke="#222" stroke-width="0.1">100</text>
<text x="521.4" y="429.5" font-size="6.9" text-anchor="start" fill="#222" textLength="9.9" lengthAdjust="spacingAndGlyphs" stroke="#222" stroke-width="0.1">200</text>
<text x="494.0" y="442.3" font-size="6.9" text-anchor="start" fill="#222" textLength="14.3" lengthAdjust="spacingAndGlyphs" stroke="#222" stroke-width="0.1">Miles</text>
</svg>
</body></html>
